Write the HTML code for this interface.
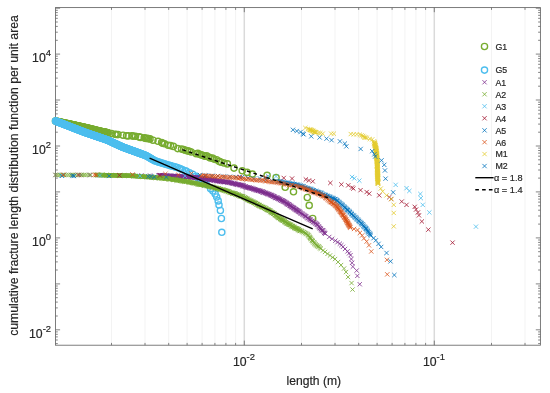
<!DOCTYPE html>
<html lang="en"><head><meta charset="utf-8"><title>Cumulative fracture length distribution</title>
<style>html,body{margin:0;padding:0;background:#fff}svg{display:block}text{stroke:#262626;stroke-width:.2px}</style></head>
<body>
<svg width="550" height="393" viewBox="0 0 550 393" font-family="'Liberation Sans', Arial, sans-serif" fill="#262626">
<rect width="550" height="393" fill="#fff"/>
<g stroke="#f3f3f3" stroke-width="1"><line x1="111.5" x2="111.5" y1="7.6" y2="345.2"/><line x1="145.0" x2="145.0" y1="7.6" y2="345.2"/><line x1="168.7" x2="168.7" y1="7.6" y2="345.2"/><line x1="187.1" x2="187.1" y1="7.6" y2="345.2"/><line x1="202.1" x2="202.1" y1="7.6" y2="345.2"/><line x1="214.9" x2="214.9" y1="7.6" y2="345.2"/><line x1="225.9" x2="225.9" y1="7.6" y2="345.2"/><line x1="235.6" x2="235.6" y1="7.6" y2="345.2"/><line x1="301.5" x2="301.5" y1="7.6" y2="345.2"/><line x1="335.0" x2="335.0" y1="7.6" y2="345.2"/><line x1="358.7" x2="358.7" y1="7.6" y2="345.2"/><line x1="377.1" x2="377.1" y1="7.6" y2="345.2"/><line x1="392.1" x2="392.1" y1="7.6" y2="345.2"/><line x1="404.9" x2="404.9" y1="7.6" y2="345.2"/><line x1="415.9" x2="415.9" y1="7.6" y2="345.2"/><line x1="425.6" x2="425.6" y1="7.6" y2="345.2"/><line x1="491.5" x2="491.5" y1="7.6" y2="345.2"/><line x1="525.0" x2="525.0" y1="7.6" y2="345.2"/></g>
<g stroke="#dadada" stroke-width="1.5"><line x1="244.3" x2="244.3" y1="7.6" y2="345.2"/><line x1="434.3" x2="434.3" y1="7.6" y2="345.2"/></g>
<g stroke="#666" stroke-width="0.8"><line x1="55.5" x2="57.8" y1="343.6" y2="343.6"/><line x1="540.4" x2="538.1" y1="343.6" y2="343.6"/><line x1="55.5" x2="57.8" y1="340.0" y2="340.0"/><line x1="540.4" x2="538.1" y1="340.0" y2="340.0"/><line x1="55.5" x2="57.8" y1="336.9" y2="336.9"/><line x1="540.4" x2="538.1" y1="336.9" y2="336.9"/><line x1="55.5" x2="57.8" y1="334.3" y2="334.3"/><line x1="540.4" x2="538.1" y1="334.3" y2="334.3"/><line x1="55.5" x2="57.8" y1="331.9" y2="331.9"/><line x1="540.4" x2="538.1" y1="331.9" y2="331.9"/><line x1="55.5" x2="60.1" y1="329.8" y2="329.8"/><line x1="540.4" x2="535.8" y1="329.8" y2="329.8"/><line x1="55.5" x2="57.8" y1="316.0" y2="316.0"/><line x1="540.4" x2="538.1" y1="316.0" y2="316.0"/><line x1="55.5" x2="57.8" y1="307.9" y2="307.9"/><line x1="540.4" x2="538.1" y1="307.9" y2="307.9"/><line x1="55.5" x2="57.8" y1="302.1" y2="302.1"/><line x1="540.4" x2="538.1" y1="302.1" y2="302.1"/><line x1="55.5" x2="57.8" y1="297.7" y2="297.7"/><line x1="540.4" x2="538.1" y1="297.7" y2="297.7"/><line x1="55.5" x2="57.8" y1="294.0" y2="294.0"/><line x1="540.4" x2="538.1" y1="294.0" y2="294.0"/><line x1="55.5" x2="57.8" y1="291.0" y2="291.0"/><line x1="540.4" x2="538.1" y1="291.0" y2="291.0"/><line x1="55.5" x2="57.8" y1="288.3" y2="288.3"/><line x1="540.4" x2="538.1" y1="288.3" y2="288.3"/><line x1="55.5" x2="57.8" y1="286.0" y2="286.0"/><line x1="540.4" x2="538.1" y1="286.0" y2="286.0"/><line x1="55.5" x2="60.1" y1="283.9" y2="283.9"/><line x1="540.4" x2="535.8" y1="283.9" y2="283.9"/><line x1="55.5" x2="57.8" y1="270.0" y2="270.0"/><line x1="540.4" x2="538.1" y1="270.0" y2="270.0"/><line x1="55.5" x2="57.8" y1="261.9" y2="261.9"/><line x1="540.4" x2="538.1" y1="261.9" y2="261.9"/><line x1="55.5" x2="57.8" y1="256.2" y2="256.2"/><line x1="540.4" x2="538.1" y1="256.2" y2="256.2"/><line x1="55.5" x2="57.8" y1="251.7" y2="251.7"/><line x1="540.4" x2="538.1" y1="251.7" y2="251.7"/><line x1="55.5" x2="57.8" y1="248.1" y2="248.1"/><line x1="540.4" x2="538.1" y1="248.1" y2="248.1"/><line x1="55.5" x2="57.8" y1="245.0" y2="245.0"/><line x1="540.4" x2="538.1" y1="245.0" y2="245.0"/><line x1="55.5" x2="57.8" y1="242.4" y2="242.4"/><line x1="540.4" x2="538.1" y1="242.4" y2="242.4"/><line x1="55.5" x2="57.8" y1="240.0" y2="240.0"/><line x1="540.4" x2="538.1" y1="240.0" y2="240.0"/><line x1="55.5" x2="60.1" y1="237.9" y2="237.9"/><line x1="540.4" x2="535.8" y1="237.9" y2="237.9"/><line x1="55.5" x2="57.8" y1="224.1" y2="224.1"/><line x1="540.4" x2="538.1" y1="224.1" y2="224.1"/><line x1="55.5" x2="57.8" y1="216.0" y2="216.0"/><line x1="540.4" x2="538.1" y1="216.0" y2="216.0"/><line x1="55.5" x2="57.8" y1="210.2" y2="210.2"/><line x1="540.4" x2="538.1" y1="210.2" y2="210.2"/><line x1="55.5" x2="57.8" y1="205.8" y2="205.8"/><line x1="540.4" x2="538.1" y1="205.8" y2="205.8"/><line x1="55.5" x2="57.8" y1="202.1" y2="202.1"/><line x1="540.4" x2="538.1" y1="202.1" y2="202.1"/><line x1="55.5" x2="57.8" y1="199.1" y2="199.1"/><line x1="540.4" x2="538.1" y1="199.1" y2="199.1"/><line x1="55.5" x2="57.8" y1="196.4" y2="196.4"/><line x1="540.4" x2="538.1" y1="196.4" y2="196.4"/><line x1="55.5" x2="57.8" y1="194.1" y2="194.1"/><line x1="540.4" x2="538.1" y1="194.1" y2="194.1"/><line x1="55.5" x2="60.1" y1="191.9" y2="191.9"/><line x1="540.4" x2="535.8" y1="191.9" y2="191.9"/><line x1="55.5" x2="57.8" y1="178.1" y2="178.1"/><line x1="540.4" x2="538.1" y1="178.1" y2="178.1"/><line x1="55.5" x2="57.8" y1="170.0" y2="170.0"/><line x1="540.4" x2="538.1" y1="170.0" y2="170.0"/><line x1="55.5" x2="57.8" y1="164.3" y2="164.3"/><line x1="540.4" x2="538.1" y1="164.3" y2="164.3"/><line x1="55.5" x2="57.8" y1="159.8" y2="159.8"/><line x1="540.4" x2="538.1" y1="159.8" y2="159.8"/><line x1="55.5" x2="57.8" y1="156.2" y2="156.2"/><line x1="540.4" x2="538.1" y1="156.2" y2="156.2"/><line x1="55.5" x2="57.8" y1="153.1" y2="153.1"/><line x1="540.4" x2="538.1" y1="153.1" y2="153.1"/><line x1="55.5" x2="57.8" y1="150.5" y2="150.5"/><line x1="540.4" x2="538.1" y1="150.5" y2="150.5"/><line x1="55.5" x2="57.8" y1="148.1" y2="148.1"/><line x1="540.4" x2="538.1" y1="148.1" y2="148.1"/><line x1="55.5" x2="60.1" y1="146.0" y2="146.0"/><line x1="540.4" x2="535.8" y1="146.0" y2="146.0"/><line x1="55.5" x2="57.8" y1="132.2" y2="132.2"/><line x1="540.4" x2="538.1" y1="132.2" y2="132.2"/><line x1="55.5" x2="57.8" y1="124.1" y2="124.1"/><line x1="540.4" x2="538.1" y1="124.1" y2="124.1"/><line x1="55.5" x2="57.8" y1="118.3" y2="118.3"/><line x1="540.4" x2="538.1" y1="118.3" y2="118.3"/><line x1="55.5" x2="57.8" y1="113.9" y2="113.9"/><line x1="540.4" x2="538.1" y1="113.9" y2="113.9"/><line x1="55.5" x2="57.8" y1="110.2" y2="110.2"/><line x1="540.4" x2="538.1" y1="110.2" y2="110.2"/><line x1="55.5" x2="57.8" y1="107.2" y2="107.2"/><line x1="540.4" x2="538.1" y1="107.2" y2="107.2"/><line x1="55.5" x2="57.8" y1="104.5" y2="104.5"/><line x1="540.4" x2="538.1" y1="104.5" y2="104.5"/><line x1="55.5" x2="57.8" y1="102.2" y2="102.2"/><line x1="540.4" x2="538.1" y1="102.2" y2="102.2"/><line x1="55.5" x2="60.1" y1="100.0" y2="100.0"/><line x1="540.4" x2="535.8" y1="100.0" y2="100.0"/><line x1="55.5" x2="57.8" y1="86.2" y2="86.2"/><line x1="540.4" x2="538.1" y1="86.2" y2="86.2"/><line x1="55.5" x2="57.8" y1="78.1" y2="78.1"/><line x1="540.4" x2="538.1" y1="78.1" y2="78.1"/><line x1="55.5" x2="57.8" y1="72.4" y2="72.4"/><line x1="540.4" x2="538.1" y1="72.4" y2="72.4"/><line x1="55.5" x2="57.8" y1="67.9" y2="67.9"/><line x1="540.4" x2="538.1" y1="67.9" y2="67.9"/><line x1="55.5" x2="57.8" y1="64.3" y2="64.3"/><line x1="540.4" x2="538.1" y1="64.3" y2="64.3"/><line x1="55.5" x2="57.8" y1="61.2" y2="61.2"/><line x1="540.4" x2="538.1" y1="61.2" y2="61.2"/><line x1="55.5" x2="57.8" y1="58.6" y2="58.6"/><line x1="540.4" x2="538.1" y1="58.6" y2="58.6"/><line x1="55.5" x2="57.8" y1="56.2" y2="56.2"/><line x1="540.4" x2="538.1" y1="56.2" y2="56.2"/><line x1="55.5" x2="60.1" y1="54.1" y2="54.1"/><line x1="540.4" x2="535.8" y1="54.1" y2="54.1"/><line x1="55.5" x2="57.8" y1="40.3" y2="40.3"/><line x1="540.4" x2="538.1" y1="40.3" y2="40.3"/><line x1="55.5" x2="57.8" y1="32.2" y2="32.2"/><line x1="540.4" x2="538.1" y1="32.2" y2="32.2"/><line x1="55.5" x2="57.8" y1="26.4" y2="26.4"/><line x1="540.4" x2="538.1" y1="26.4" y2="26.4"/><line x1="55.5" x2="57.8" y1="22.0" y2="22.0"/><line x1="540.4" x2="538.1" y1="22.0" y2="22.0"/><line x1="55.5" x2="57.8" y1="18.3" y2="18.3"/><line x1="540.4" x2="538.1" y1="18.3" y2="18.3"/><line x1="55.5" x2="57.8" y1="15.3" y2="15.3"/><line x1="540.4" x2="538.1" y1="15.3" y2="15.3"/><line x1="55.5" x2="57.8" y1="12.6" y2="12.6"/><line x1="540.4" x2="538.1" y1="12.6" y2="12.6"/><line x1="55.5" x2="57.8" y1="10.3" y2="10.3"/><line x1="540.4" x2="538.1" y1="10.3" y2="10.3"/><line x1="55.5" x2="60.1" y1="8.2" y2="8.2"/><line x1="540.4" x2="535.8" y1="8.2" y2="8.2"/><line x1="111.5" x2="111.5" y1="345.2" y2="342.9"/><line x1="111.5" x2="111.5" y1="7.6" y2="9.899999999999999"/><line x1="145.0" x2="145.0" y1="345.2" y2="342.9"/><line x1="145.0" x2="145.0" y1="7.6" y2="9.899999999999999"/><line x1="168.7" x2="168.7" y1="345.2" y2="342.9"/><line x1="168.7" x2="168.7" y1="7.6" y2="9.899999999999999"/><line x1="187.1" x2="187.1" y1="345.2" y2="342.9"/><line x1="187.1" x2="187.1" y1="7.6" y2="9.899999999999999"/><line x1="202.1" x2="202.1" y1="345.2" y2="342.9"/><line x1="202.1" x2="202.1" y1="7.6" y2="9.899999999999999"/><line x1="214.9" x2="214.9" y1="345.2" y2="342.9"/><line x1="214.9" x2="214.9" y1="7.6" y2="9.899999999999999"/><line x1="225.9" x2="225.9" y1="345.2" y2="342.9"/><line x1="225.9" x2="225.9" y1="7.6" y2="9.899999999999999"/><line x1="235.6" x2="235.6" y1="345.2" y2="342.9"/><line x1="235.6" x2="235.6" y1="7.6" y2="9.899999999999999"/><line x1="244.3" x2="244.3" y1="345.2" y2="340.59999999999997"/><line x1="244.3" x2="244.3" y1="7.6" y2="12.2"/><line x1="301.5" x2="301.5" y1="345.2" y2="342.9"/><line x1="301.5" x2="301.5" y1="7.6" y2="9.899999999999999"/><line x1="335.0" x2="335.0" y1="345.2" y2="342.9"/><line x1="335.0" x2="335.0" y1="7.6" y2="9.899999999999999"/><line x1="358.7" x2="358.7" y1="345.2" y2="342.9"/><line x1="358.7" x2="358.7" y1="7.6" y2="9.899999999999999"/><line x1="377.1" x2="377.1" y1="345.2" y2="342.9"/><line x1="377.1" x2="377.1" y1="7.6" y2="9.899999999999999"/><line x1="392.1" x2="392.1" y1="345.2" y2="342.9"/><line x1="392.1" x2="392.1" y1="7.6" y2="9.899999999999999"/><line x1="404.9" x2="404.9" y1="345.2" y2="342.9"/><line x1="404.9" x2="404.9" y1="7.6" y2="9.899999999999999"/><line x1="415.9" x2="415.9" y1="345.2" y2="342.9"/><line x1="415.9" x2="415.9" y1="7.6" y2="9.899999999999999"/><line x1="425.6" x2="425.6" y1="345.2" y2="342.9"/><line x1="425.6" x2="425.6" y1="7.6" y2="9.899999999999999"/><line x1="434.3" x2="434.3" y1="345.2" y2="340.59999999999997"/><line x1="434.3" x2="434.3" y1="7.6" y2="12.2"/><line x1="491.5" x2="491.5" y1="345.2" y2="342.9"/><line x1="491.5" x2="491.5" y1="7.6" y2="9.899999999999999"/><line x1="525.0" x2="525.0" y1="345.2" y2="342.9"/><line x1="525.0" x2="525.0" y1="7.6" y2="9.899999999999999"/></g>
<rect x="55.5" y="7.6" width="484.9" height="337.59999999999997" fill="none" stroke="#666" stroke-width="0.85"/>
<clipPath id="c"><rect x="49.5" y="7.6" width="490.9" height="337.59999999999997"/></clipPath>
<g clip-path="url(#c)">
<g fill="none" stroke="#77AC30" stroke-width="1.35"><circle cx="55.5" cy="121.0" r="3.1"/><circle cx="56.0" cy="121.1" r="3.1"/><circle cx="56.4" cy="121.2" r="3.1"/><circle cx="56.9" cy="121.3" r="3.1"/><circle cx="57.3" cy="121.4" r="3.1"/><circle cx="57.8" cy="121.5" r="3.1"/><circle cx="58.2" cy="121.6" r="3.1"/><circle cx="58.7" cy="121.7" r="3.1"/><circle cx="59.1" cy="121.8" r="3.1"/><circle cx="59.6" cy="121.9" r="3.1"/><circle cx="60.0" cy="122.0" r="3.1"/><circle cx="60.5" cy="122.1" r="3.1"/><circle cx="60.9" cy="122.2" r="3.1"/><circle cx="61.4" cy="122.3" r="3.1"/><circle cx="61.8" cy="122.4" r="3.1"/><circle cx="62.3" cy="122.5" r="3.1"/><circle cx="62.7" cy="122.6" r="3.1"/><circle cx="63.2" cy="122.7" r="3.1"/><circle cx="63.6" cy="122.8" r="3.1"/><circle cx="64.1" cy="122.9" r="3.1"/><circle cx="64.5" cy="123.0" r="3.1"/><circle cx="65.0" cy="123.1" r="3.1"/><circle cx="65.4" cy="123.2" r="3.1"/><circle cx="65.9" cy="123.3" r="3.1"/><circle cx="66.3" cy="123.4" r="3.1"/><circle cx="66.8" cy="123.5" r="3.1"/><circle cx="67.2" cy="123.6" r="3.1"/><circle cx="67.7" cy="123.6" r="3.1"/><circle cx="68.1" cy="123.7" r="3.1"/><circle cx="68.6" cy="123.8" r="3.1"/><circle cx="69.0" cy="123.9" r="3.1"/><circle cx="69.5" cy="124.0" r="3.1"/><circle cx="69.9" cy="124.1" r="3.1"/><circle cx="70.4" cy="124.2" r="3.1"/><circle cx="70.8" cy="124.3" r="3.1"/><circle cx="71.3" cy="124.4" r="3.1"/><circle cx="71.7" cy="124.5" r="3.1"/><circle cx="72.2" cy="124.6" r="3.1"/><circle cx="72.6" cy="124.7" r="3.1"/><circle cx="73.1" cy="124.8" r="3.1"/><circle cx="73.5" cy="124.9" r="3.1"/><circle cx="74.0" cy="125.0" r="3.1"/><circle cx="74.4" cy="125.1" r="3.1"/><circle cx="74.9" cy="125.2" r="3.1"/><circle cx="75.3" cy="125.3" r="3.1"/><circle cx="75.8" cy="125.4" r="3.1"/><circle cx="76.2" cy="125.5" r="3.1"/><circle cx="76.7" cy="125.6" r="3.1"/><circle cx="77.1" cy="125.7" r="3.1"/><circle cx="77.6" cy="125.8" r="3.1"/><circle cx="78.0" cy="125.9" r="3.1"/><circle cx="78.5" cy="126.0" r="3.1"/><circle cx="78.9" cy="126.1" r="3.1"/><circle cx="79.4" cy="126.2" r="3.1"/><circle cx="79.8" cy="126.3" r="3.1"/><circle cx="80.3" cy="126.4" r="3.1"/><circle cx="80.7" cy="126.5" r="3.1"/><circle cx="81.2" cy="126.6" r="3.1"/><circle cx="81.6" cy="126.7" r="3.1"/><circle cx="82.1" cy="126.8" r="3.1"/><circle cx="82.5" cy="126.9" r="3.1"/><circle cx="83.0" cy="127.0" r="3.1"/><circle cx="83.4" cy="127.1" r="3.1"/><circle cx="83.9" cy="127.2" r="3.1"/><circle cx="84.3" cy="127.3" r="3.1"/><circle cx="84.8" cy="127.4" r="3.1"/><circle cx="85.2" cy="127.5" r="3.1"/><circle cx="85.7" cy="127.6" r="3.1"/><circle cx="86.1" cy="127.7" r="3.1"/><circle cx="86.6" cy="127.8" r="3.1"/><circle cx="87.0" cy="128.0" r="3.1"/><circle cx="87.5" cy="128.1" r="3.1"/><circle cx="87.9" cy="128.2" r="3.1"/><circle cx="88.4" cy="128.3" r="3.1"/><circle cx="88.8" cy="128.4" r="3.1"/><circle cx="89.3" cy="128.5" r="3.1"/><circle cx="89.7" cy="128.6" r="3.1"/><circle cx="90.2" cy="128.7" r="3.1"/><circle cx="90.6" cy="128.9" r="3.1"/><circle cx="91.1" cy="129.0" r="3.1"/><circle cx="91.5" cy="129.1" r="3.1"/><circle cx="92.0" cy="129.2" r="3.1"/><circle cx="92.4" cy="129.3" r="3.1"/><circle cx="92.9" cy="129.4" r="3.1"/><circle cx="93.3" cy="129.5" r="3.1"/><circle cx="93.8" cy="129.6" r="3.1"/><circle cx="94.2" cy="129.8" r="3.1"/><circle cx="94.7" cy="129.9" r="3.1"/><circle cx="95.1" cy="130.0" r="3.1"/><circle cx="95.6" cy="130.1" r="3.1"/><circle cx="96.0" cy="130.2" r="3.1"/><circle cx="96.5" cy="130.3" r="3.1"/><circle cx="96.9" cy="130.4" r="3.1"/><circle cx="97.4" cy="130.5" r="3.1"/><circle cx="97.8" cy="130.7" r="3.1"/><circle cx="98.3" cy="130.8" r="3.1"/><circle cx="98.7" cy="130.9" r="3.1"/><circle cx="99.2" cy="131.0" r="3.1"/><circle cx="99.6" cy="131.1" r="3.1"/><circle cx="100.1" cy="131.2" r="3.1"/><circle cx="100.5" cy="131.3" r="3.1"/><circle cx="101.0" cy="131.4" r="3.1"/><circle cx="101.4" cy="131.5" r="3.1"/><circle cx="101.9" cy="131.6" r="3.1"/><circle cx="102.3" cy="131.7" r="3.1"/><circle cx="102.8" cy="131.8" r="3.1"/><circle cx="103.2" cy="131.8" r="3.1"/><circle cx="103.7" cy="131.9" r="3.1"/><circle cx="104.1" cy="132.0" r="3.1"/><circle cx="104.6" cy="132.1" r="3.1"/><circle cx="105.0" cy="132.2" r="3.1"/><circle cx="105.5" cy="132.3" r="3.1"/><circle cx="105.9" cy="132.4" r="3.1"/><circle cx="106.4" cy="132.5" r="3.1"/><circle cx="106.8" cy="132.6" r="3.1"/><circle cx="107.3" cy="132.7" r="3.1"/><circle cx="107.7" cy="132.7" r="3.1"/><circle cx="108.2" cy="132.8" r="3.1"/><circle cx="111.5" cy="133.6" r="3.1"/><circle cx="115.1" cy="134.2" r="3.1"/><circle cx="116.2" cy="134.5" r="3.1"/><circle cx="118.0" cy="134.6" r="3.1"/><circle cx="123.0" cy="135.2" r="3.1"/><circle cx="126.6" cy="135.7" r="3.1"/><circle cx="128.3" cy="135.9" r="3.1"/><circle cx="131.9" cy="135.7" r="3.1"/><circle cx="133.0" cy="136.1" r="3.1"/><circle cx="135.5" cy="136.3" r="3.1"/><circle cx="139.1" cy="136.9" r="3.1"/><circle cx="140.6" cy="137.4" r="3.1"/><circle cx="144.2" cy="137.8" r="3.1"/><circle cx="145.3" cy="138.3" r="3.1"/><circle cx="146.4" cy="138.5" r="3.1"/><circle cx="147.5" cy="138.2" r="3.1"/><circle cx="148.6" cy="138.7" r="3.1"/><circle cx="150.0" cy="138.9" r="3.1"/><circle cx="153.0" cy="140.2" r="3.1"/><circle cx="158.0" cy="141.3" r="3.1"/><circle cx="161.6" cy="142.6" r="3.1"/><circle cx="162.7" cy="143.3" r="3.1"/><circle cx="164.6" cy="143.8" r="3.1"/><circle cx="168.2" cy="145.2" r="3.1"/><circle cx="170.5" cy="145.6" r="3.1"/><circle cx="173.4" cy="146.4" r="3.1"/><circle cx="177.7" cy="148.6" r="3.1"/><circle cx="181.5" cy="149.1" r="3.1"/><circle cx="183.6" cy="149.6" r="3.1"/><circle cx="185.4" cy="150.2" r="3.1"/><circle cx="187.6" cy="150.9" r="3.1"/><circle cx="189.3" cy="151.2" r="3.1"/><circle cx="191.2" cy="152.0" r="3.1"/><circle cx="196.2" cy="153.8" r="3.1"/><circle cx="197.8" cy="153.4" r="3.1"/><circle cx="199.6" cy="154.2" r="3.1"/><circle cx="201.3" cy="154.9" r="3.1"/><circle cx="203.2" cy="155.6" r="3.1"/><circle cx="205.0" cy="156.2" r="3.1"/><circle cx="206.6" cy="155.9" r="3.1"/><circle cx="208.6" cy="157.1" r="3.1"/><circle cx="210.3" cy="158.0" r="3.1"/><circle cx="212.4" cy="158.0" r="3.1"/><circle cx="214.0" cy="159.1" r="3.1"/><circle cx="216.6" cy="159.7" r="3.1"/><circle cx="219.3" cy="161.4" r="3.1"/><circle cx="221.2" cy="162.3" r="3.1"/><circle cx="224.0" cy="163.0" r="3.1"/><circle cx="227.4" cy="163.9" r="3.1"/><circle cx="234.0" cy="168.1" r="3.1"/><circle cx="242.2" cy="170.8" r="3.1"/><circle cx="247.1" cy="172.4" r="3.1"/><circle cx="252.5" cy="174.1" r="3.1"/><circle cx="267.1" cy="175.3" r="3.1"/><circle cx="276.1" cy="177.6" r="3.1"/><circle cx="285.2" cy="187.3" r="3.1"/><circle cx="293.5" cy="191.8" r="3.1"/><circle cx="307.3" cy="197.5" r="3.1"/><circle cx="309.2" cy="205.4" r="3.1"/><circle cx="312.7" cy="218.5" r="3.1"/></g>
<g fill="none" stroke="#4DBEEE" stroke-width="1.35"><circle cx="55.5" cy="121.0" r="3.1"/><circle cx="55.9" cy="121.1" r="3.1"/><circle cx="56.2" cy="121.3" r="3.1"/><circle cx="56.6" cy="121.4" r="3.1"/><circle cx="57.0" cy="121.6" r="3.1"/><circle cx="57.4" cy="121.7" r="3.1"/><circle cx="57.7" cy="121.9" r="3.1"/><circle cx="58.1" cy="122.0" r="3.1"/><circle cx="58.5" cy="122.2" r="3.1"/><circle cx="58.9" cy="122.3" r="3.1"/><circle cx="59.2" cy="122.4" r="3.1"/><circle cx="59.6" cy="122.6" r="3.1"/><circle cx="60.0" cy="122.7" r="3.1"/><circle cx="60.3" cy="122.9" r="3.1"/><circle cx="60.7" cy="123.0" r="3.1"/><circle cx="61.1" cy="123.2" r="3.1"/><circle cx="61.5" cy="123.3" r="3.1"/><circle cx="61.8" cy="123.5" r="3.1"/><circle cx="62.2" cy="123.6" r="3.1"/><circle cx="62.6" cy="123.7" r="3.1"/><circle cx="63.0" cy="123.9" r="3.1"/><circle cx="63.3" cy="124.0" r="3.1"/><circle cx="63.7" cy="124.2" r="3.1"/><circle cx="64.1" cy="124.3" r="3.1"/><circle cx="64.5" cy="124.5" r="3.1"/><circle cx="64.8" cy="124.6" r="3.1"/><circle cx="65.2" cy="124.8" r="3.1"/><circle cx="65.6" cy="124.9" r="3.1"/><circle cx="65.9" cy="125.0" r="3.1"/><circle cx="66.3" cy="125.2" r="3.1"/><circle cx="66.7" cy="125.3" r="3.1"/><circle cx="67.1" cy="125.5" r="3.1"/><circle cx="67.4" cy="125.6" r="3.1"/><circle cx="67.8" cy="125.8" r="3.1"/><circle cx="68.2" cy="125.9" r="3.1"/><circle cx="68.6" cy="126.1" r="3.1"/><circle cx="68.9" cy="126.2" r="3.1"/><circle cx="69.3" cy="126.3" r="3.1"/><circle cx="69.7" cy="126.5" r="3.1"/><circle cx="70.0" cy="126.6" r="3.1"/><circle cx="70.4" cy="126.8" r="3.1"/><circle cx="70.8" cy="126.9" r="3.1"/><circle cx="71.2" cy="127.1" r="3.1"/><circle cx="71.5" cy="127.2" r="3.1"/><circle cx="71.9" cy="127.4" r="3.1"/><circle cx="72.3" cy="127.5" r="3.1"/><circle cx="72.7" cy="127.6" r="3.1"/><circle cx="73.0" cy="127.8" r="3.1"/><circle cx="73.4" cy="127.9" r="3.1"/><circle cx="73.8" cy="128.1" r="3.1"/><circle cx="74.1" cy="128.2" r="3.1"/><circle cx="74.5" cy="128.4" r="3.1"/><circle cx="74.9" cy="128.5" r="3.1"/><circle cx="75.3" cy="128.7" r="3.1"/><circle cx="75.6" cy="128.8" r="3.1"/><circle cx="76.0" cy="128.9" r="3.1"/><circle cx="76.4" cy="129.1" r="3.1"/><circle cx="76.8" cy="129.2" r="3.1"/><circle cx="77.1" cy="129.4" r="3.1"/><circle cx="77.5" cy="129.5" r="3.1"/><circle cx="77.9" cy="129.7" r="3.1"/><circle cx="78.3" cy="129.8" r="3.1"/><circle cx="78.6" cy="130.0" r="3.1"/><circle cx="79.0" cy="130.1" r="3.1"/><circle cx="79.4" cy="130.3" r="3.1"/><circle cx="79.7" cy="130.4" r="3.1"/><circle cx="80.1" cy="130.5" r="3.1"/><circle cx="80.5" cy="130.7" r="3.1"/><circle cx="80.9" cy="130.8" r="3.1"/><circle cx="81.2" cy="131.0" r="3.1"/><circle cx="81.6" cy="131.1" r="3.1"/><circle cx="82.0" cy="131.3" r="3.1"/><circle cx="82.4" cy="131.4" r="3.1"/><circle cx="82.7" cy="131.6" r="3.1"/><circle cx="83.1" cy="131.7" r="3.1"/><circle cx="83.5" cy="131.8" r="3.1"/><circle cx="83.8" cy="132.0" r="3.1"/><circle cx="84.2" cy="132.1" r="3.1"/><circle cx="84.6" cy="132.3" r="3.1"/><circle cx="85.0" cy="132.4" r="3.1"/><circle cx="85.4" cy="132.5" r="3.1"/><circle cx="85.7" cy="132.7" r="3.1"/><circle cx="86.1" cy="132.8" r="3.1"/><circle cx="86.5" cy="132.9" r="3.1"/><circle cx="86.9" cy="133.0" r="3.1"/><circle cx="87.2" cy="133.2" r="3.1"/><circle cx="87.6" cy="133.3" r="3.1"/><circle cx="88.0" cy="133.4" r="3.1"/><circle cx="88.4" cy="133.6" r="3.1"/><circle cx="88.8" cy="133.7" r="3.1"/><circle cx="89.1" cy="133.8" r="3.1"/><circle cx="89.5" cy="133.9" r="3.1"/><circle cx="89.9" cy="134.1" r="3.1"/><circle cx="90.3" cy="134.2" r="3.1"/><circle cx="90.7" cy="134.3" r="3.1"/><circle cx="91.0" cy="134.5" r="3.1"/><circle cx="91.4" cy="134.6" r="3.1"/><circle cx="91.8" cy="134.7" r="3.1"/><circle cx="92.2" cy="134.8" r="3.1"/><circle cx="92.5" cy="135.0" r="3.1"/><circle cx="92.9" cy="135.1" r="3.1"/><circle cx="93.3" cy="135.2" r="3.1"/><circle cx="93.7" cy="135.4" r="3.1"/><circle cx="94.1" cy="135.5" r="3.1"/><circle cx="94.4" cy="135.6" r="3.1"/><circle cx="94.8" cy="135.7" r="3.1"/><circle cx="95.2" cy="135.9" r="3.1"/><circle cx="95.6" cy="136.0" r="3.1"/><circle cx="96.0" cy="136.1" r="3.1"/><circle cx="96.3" cy="136.3" r="3.1"/><circle cx="96.7" cy="136.4" r="3.1"/><circle cx="97.1" cy="136.5" r="3.1"/><circle cx="97.5" cy="136.7" r="3.1"/><circle cx="97.8" cy="136.8" r="3.1"/><circle cx="98.2" cy="136.9" r="3.1"/><circle cx="98.6" cy="137.0" r="3.1"/><circle cx="99.0" cy="137.2" r="3.1"/><circle cx="99.4" cy="137.3" r="3.1"/><circle cx="99.7" cy="137.4" r="3.1"/><circle cx="100.1" cy="137.6" r="3.1"/><circle cx="100.5" cy="137.7" r="3.1"/><circle cx="100.9" cy="137.8" r="3.1"/><circle cx="101.3" cy="137.9" r="3.1"/><circle cx="101.6" cy="138.1" r="3.1"/><circle cx="102.0" cy="138.2" r="3.1"/><circle cx="102.4" cy="138.3" r="3.1"/><circle cx="102.8" cy="138.5" r="3.1"/><circle cx="103.1" cy="138.6" r="3.1"/><circle cx="103.5" cy="138.7" r="3.1"/><circle cx="103.9" cy="138.8" r="3.1"/><circle cx="104.3" cy="139.0" r="3.1"/><circle cx="104.7" cy="139.1" r="3.1"/><circle cx="105.0" cy="139.2" r="3.1"/><circle cx="105.4" cy="139.4" r="3.1"/><circle cx="105.8" cy="139.5" r="3.1"/><circle cx="106.2" cy="139.6" r="3.1"/><circle cx="106.6" cy="139.7" r="3.1"/><circle cx="106.9" cy="139.9" r="3.1"/><circle cx="107.3" cy="140.0" r="3.1"/><circle cx="107.7" cy="140.2" r="3.1"/><circle cx="108.0" cy="140.3" r="3.1"/><circle cx="108.4" cy="140.5" r="3.1"/><circle cx="108.8" cy="140.7" r="3.1"/><circle cx="109.1" cy="140.8" r="3.1"/><circle cx="109.5" cy="141.0" r="3.1"/><circle cx="109.9" cy="141.2" r="3.1"/><circle cx="110.2" cy="141.3" r="3.1"/><circle cx="110.6" cy="141.5" r="3.1"/><circle cx="110.9" cy="141.7" r="3.1"/><circle cx="111.3" cy="141.8" r="3.1"/><circle cx="111.7" cy="142.0" r="3.1"/><circle cx="112.0" cy="142.2" r="3.1"/><circle cx="112.4" cy="142.4" r="3.1"/><circle cx="112.8" cy="142.5" r="3.1"/><circle cx="113.1" cy="142.7" r="3.1"/><circle cx="113.5" cy="142.9" r="3.1"/><circle cx="113.8" cy="143.0" r="3.1"/><circle cx="114.2" cy="143.2" r="3.1"/><circle cx="114.6" cy="143.4" r="3.1"/><circle cx="114.9" cy="143.5" r="3.1"/><circle cx="115.3" cy="143.7" r="3.1"/><circle cx="115.7" cy="143.9" r="3.1"/><circle cx="116.0" cy="144.0" r="3.1"/><circle cx="116.4" cy="144.2" r="3.1"/><circle cx="116.8" cy="144.4" r="3.1"/><circle cx="117.1" cy="144.5" r="3.1"/><circle cx="117.5" cy="144.7" r="3.1"/><circle cx="117.8" cy="144.9" r="3.1"/><circle cx="118.2" cy="145.0" r="3.1"/><circle cx="118.6" cy="145.2" r="3.1"/><circle cx="118.9" cy="145.4" r="3.1"/><circle cx="119.3" cy="145.5" r="3.1"/><circle cx="119.7" cy="145.7" r="3.1"/><circle cx="120.0" cy="145.9" r="3.1"/><circle cx="120.4" cy="146.0" r="3.1"/><circle cx="120.8" cy="146.2" r="3.1"/><circle cx="121.1" cy="146.4" r="3.1"/><circle cx="121.5" cy="146.5" r="3.1"/><circle cx="121.8" cy="146.7" r="3.1"/><circle cx="122.2" cy="146.9" r="3.1"/><circle cx="122.6" cy="147.0" r="3.1"/><circle cx="122.9" cy="147.2" r="3.1"/><circle cx="123.3" cy="147.3" r="3.1"/><circle cx="123.7" cy="147.5" r="3.1"/><circle cx="124.1" cy="147.6" r="3.1"/><circle cx="124.4" cy="147.8" r="3.1"/><circle cx="124.8" cy="147.9" r="3.1"/><circle cx="125.2" cy="148.0" r="3.1"/><circle cx="125.6" cy="148.2" r="3.1"/><circle cx="125.9" cy="148.3" r="3.1"/><circle cx="126.3" cy="148.4" r="3.1"/><circle cx="126.7" cy="148.6" r="3.1"/><circle cx="127.1" cy="148.7" r="3.1"/><circle cx="127.4" cy="148.8" r="3.1"/><circle cx="127.8" cy="149.0" r="3.1"/><circle cx="128.2" cy="149.1" r="3.1"/><circle cx="128.6" cy="149.3" r="3.1"/><circle cx="128.9" cy="149.4" r="3.1"/><circle cx="129.3" cy="149.5" r="3.1"/><circle cx="129.7" cy="149.7" r="3.1"/><circle cx="130.1" cy="149.8" r="3.1"/><circle cx="130.5" cy="149.9" r="3.1"/><circle cx="130.8" cy="150.1" r="3.1"/><circle cx="131.2" cy="150.2" r="3.1"/><circle cx="131.6" cy="150.3" r="3.1"/><circle cx="132.0" cy="150.5" r="3.1"/><circle cx="132.3" cy="150.6" r="3.1"/><circle cx="132.7" cy="150.8" r="3.1"/><circle cx="133.1" cy="150.9" r="3.1"/><circle cx="133.5" cy="151.0" r="3.1"/><circle cx="133.8" cy="151.2" r="3.1"/><circle cx="134.2" cy="151.3" r="3.1"/><circle cx="134.6" cy="151.4" r="3.1"/><circle cx="135.0" cy="151.6" r="3.1"/><circle cx="135.3" cy="151.7" r="3.1"/><circle cx="135.7" cy="151.8" r="3.1"/><circle cx="136.1" cy="152.0" r="3.1"/><circle cx="136.5" cy="152.1" r="3.1"/><circle cx="136.8" cy="152.3" r="3.1"/><circle cx="137.2" cy="152.4" r="3.1"/><circle cx="137.6" cy="152.5" r="3.1"/><circle cx="138.0" cy="152.7" r="3.1"/><circle cx="138.3" cy="152.8" r="3.1"/><circle cx="138.7" cy="152.9" r="3.1"/><circle cx="139.1" cy="153.1" r="3.1"/><circle cx="139.5" cy="153.2" r="3.1"/><circle cx="139.9" cy="153.3" r="3.1"/><circle cx="140.2" cy="153.5" r="3.1"/><circle cx="140.4" cy="153.6" r="3.1"/><circle cx="140.8" cy="153.7" r="3.1"/><circle cx="141.4" cy="153.9" r="3.1"/><circle cx="141.7" cy="154.0" r="3.1"/><circle cx="142.2" cy="154.2" r="3.1"/><circle cx="142.6" cy="154.3" r="3.1"/><circle cx="143.0" cy="154.5" r="3.1"/><circle cx="143.6" cy="154.7" r="3.1"/><circle cx="144.0" cy="154.9" r="3.1"/><circle cx="144.5" cy="155.0" r="3.1"/><circle cx="145.2" cy="155.3" r="3.1"/><circle cx="145.8" cy="155.5" r="3.1"/><circle cx="146.5" cy="155.9" r="3.1"/><circle cx="147.1" cy="156.3" r="3.1"/><circle cx="147.5" cy="156.5" r="3.1"/><circle cx="148.1" cy="156.8" r="3.1"/><circle cx="149.0" cy="157.4" r="3.1"/><circle cx="149.7" cy="157.8" r="3.1"/><circle cx="150.7" cy="158.4" r="3.1"/><circle cx="151.1" cy="158.6" r="3.1"/><circle cx="151.7" cy="159.0" r="3.1"/><circle cx="152.7" cy="159.6" r="3.1"/><circle cx="153.7" cy="160.1" r="3.1"/><circle cx="154.6" cy="160.7" r="3.1"/><circle cx="155.7" cy="161.1" r="3.1"/><circle cx="157.2" cy="161.6" r="3.1"/><circle cx="158.4" cy="162.0" r="3.1"/><circle cx="159.6" cy="162.3" r="3.1"/><circle cx="160.9" cy="162.7" r="3.1"/><circle cx="162.4" cy="163.2" r="3.1"/><circle cx="163.4" cy="163.5" r="3.1"/><circle cx="165.0" cy="164.0" r="3.1"/><circle cx="166.6" cy="164.5" r="3.1"/><circle cx="168.5" cy="165.0" r="3.1"/><circle cx="170.1" cy="165.5" r="3.1"/><circle cx="170.9" cy="165.7" r="3.1"/><circle cx="172.7" cy="166.2" r="3.1"/><circle cx="175.0" cy="166.9" r="3.1"/><circle cx="177.1" cy="167.5" r="3.1"/><circle cx="179.3" cy="168.3" r="3.1"/><circle cx="181.0" cy="169.1" r="3.1"/><circle cx="182.7" cy="169.8" r="3.1"/><circle cx="185.2" cy="170.9" r="3.1"/><circle cx="186.5" cy="171.4" r="3.1"/><circle cx="189.5" cy="172.8" r="3.1"/><circle cx="192.7" cy="174.2" r="3.1"/><circle cx="195.9" cy="176.4" r="3.1"/><circle cx="197.4" cy="177.5" r="3.1"/><circle cx="198.8" cy="178.5" r="3.1"/><circle cx="202.2" cy="180.9" r="3.1"/><circle cx="204.3" cy="182.7" r="3.1"/><circle cx="206.1" cy="184.3" r="3.1"/><circle cx="210.6" cy="188.7" r="3.1"/><circle cx="212.9" cy="191.0" r="3.1"/><circle cx="215.2" cy="194.0" r="3.1"/><circle cx="216.7" cy="197.0" r="3.1"/><circle cx="218.2" cy="200.9" r="3.1"/><circle cx="219.0" cy="205.0" r="3.1"/><circle cx="220.4" cy="210.5" r="3.1"/><circle cx="221.4" cy="218.5" r="3.1"/><circle cx="221.8" cy="232.3" r="3.1"/></g>
<path d="M53.4 172.8l4.3 4.3m0 -4.3l-4.3 4.3M61.9 172.8l4.3 4.3m0 -4.3l-4.3 4.3M70.5 172.8l4.3 4.3m0 -4.3l-4.3 4.3M79.1 172.9l4.3 4.3m0 -4.3l-4.3 4.3M87.7 172.9l4.3 4.3m0 -4.3l-4.3 4.3M96.3 172.9l4.3 4.3m0 -4.3l-4.3 4.3M104.9 173.0l4.3 4.3m0 -4.3l-4.3 4.3M113.5 173.0l4.3 4.3m0 -4.3l-4.3 4.3M122.1 173.0l4.3 4.3m0 -4.3l-4.3 4.3M130.7 173.1l4.3 4.3m0 -4.3l-4.3 4.3M139.3 173.3l4.3 4.3m0 -4.3l-4.3 4.3M147.9 173.4l4.3 4.3m0 -4.3l-4.3 4.3M156.5 173.0l4.3 4.3m0 -4.3l-4.3 4.3M157.0 173.4l4.3 4.3m0 -4.3l-4.3 4.3M157.5 173.2l4.3 4.3m0 -4.3l-4.3 4.3M158.0 172.9l4.3 4.3m0 -4.3l-4.3 4.3M158.5 173.3l4.3 4.3m0 -4.3l-4.3 4.3M159.0 173.3l4.3 4.3m0 -4.3l-4.3 4.3M159.5 173.4l4.3 4.3m0 -4.3l-4.3 4.3M160.0 173.1l4.3 4.3m0 -4.3l-4.3 4.3M160.5 173.6l4.3 4.3m0 -4.3l-4.3 4.3M161.0 173.6l4.3 4.3m0 -4.3l-4.3 4.3M161.5 173.2l4.3 4.3m0 -4.3l-4.3 4.3M162.0 173.3l4.3 4.3m0 -4.3l-4.3 4.3M162.5 173.5l4.3 4.3m0 -4.3l-4.3 4.3M163.0 173.4l4.3 4.3m0 -4.3l-4.3 4.3M163.5 174.0l4.3 4.3m0 -4.3l-4.3 4.3M164.0 173.6l4.3 4.3m0 -4.3l-4.3 4.3M164.5 173.4l4.3 4.3m0 -4.3l-4.3 4.3M165.0 173.4l4.3 4.3m0 -4.3l-4.3 4.3M165.5 173.6l4.3 4.3m0 -4.3l-4.3 4.3M166.0 174.2l4.3 4.3m0 -4.3l-4.3 4.3M166.5 173.6l4.3 4.3m0 -4.3l-4.3 4.3M167.0 173.7l4.3 4.3m0 -4.3l-4.3 4.3M167.5 173.9l4.3 4.3m0 -4.3l-4.3 4.3M168.0 173.7l4.3 4.3m0 -4.3l-4.3 4.3M168.5 174.3l4.3 4.3m0 -4.3l-4.3 4.3M169.0 173.7l4.3 4.3m0 -4.3l-4.3 4.3M169.5 174.0l4.3 4.3m0 -4.3l-4.3 4.3M170.0 173.9l4.3 4.3m0 -4.3l-4.3 4.3M170.5 174.0l4.3 4.3m0 -4.3l-4.3 4.3M171.0 173.6l4.3 4.3m0 -4.3l-4.3 4.3M171.5 174.3l4.3 4.3m0 -4.3l-4.3 4.3M172.0 173.9l4.3 4.3m0 -4.3l-4.3 4.3M172.5 173.9l4.3 4.3m0 -4.3l-4.3 4.3M173.0 173.7l4.3 4.3m0 -4.3l-4.3 4.3M173.5 173.8l4.3 4.3m0 -4.3l-4.3 4.3M174.0 174.1l4.3 4.3m0 -4.3l-4.3 4.3M174.5 174.3l4.3 4.3m0 -4.3l-4.3 4.3M175.0 174.2l4.3 4.3m0 -4.3l-4.3 4.3M175.5 174.3l4.3 4.3m0 -4.3l-4.3 4.3M176.0 174.2l4.3 4.3m0 -4.3l-4.3 4.3M176.5 174.1l4.3 4.3m0 -4.3l-4.3 4.3M177.0 174.3l4.3 4.3m0 -4.3l-4.3 4.3M177.5 174.3l4.3 4.3m0 -4.3l-4.3 4.3M178.0 174.1l4.3 4.3m0 -4.3l-4.3 4.3M178.5 174.4l4.3 4.3m0 -4.3l-4.3 4.3M179.0 174.6l4.3 4.3m0 -4.3l-4.3 4.3M179.5 174.3l4.3 4.3m0 -4.3l-4.3 4.3M180.0 174.2l4.3 4.3m0 -4.3l-4.3 4.3M180.5 174.5l4.3 4.3m0 -4.3l-4.3 4.3M181.0 174.9l4.3 4.3m0 -4.3l-4.3 4.3M181.5 174.4l4.3 4.3m0 -4.3l-4.3 4.3M182.0 174.5l4.3 4.3m0 -4.3l-4.3 4.3M182.5 174.5l4.3 4.3m0 -4.3l-4.3 4.3M183.0 174.9l4.3 4.3m0 -4.3l-4.3 4.3M183.5 174.2l4.3 4.3m0 -4.3l-4.3 4.3M184.0 174.8l4.3 4.3m0 -4.3l-4.3 4.3M184.5 175.0l4.3 4.3m0 -4.3l-4.3 4.3M185.0 174.6l4.3 4.3m0 -4.3l-4.3 4.3M185.5 175.2l4.3 4.3m0 -4.3l-4.3 4.3M186.0 175.0l4.3 4.3m0 -4.3l-4.3 4.3M186.5 174.8l4.3 4.3m0 -4.3l-4.3 4.3M187.0 175.0l4.3 4.3m0 -4.3l-4.3 4.3M187.5 174.6l4.3 4.3m0 -4.3l-4.3 4.3M188.0 174.9l4.3 4.3m0 -4.3l-4.3 4.3M188.5 175.5l4.3 4.3m0 -4.3l-4.3 4.3M189.0 174.9l4.3 4.3m0 -4.3l-4.3 4.3M189.5 175.6l4.3 4.3m0 -4.3l-4.3 4.3M190.0 175.2l4.3 4.3m0 -4.3l-4.3 4.3M190.5 175.5l4.3 4.3m0 -4.3l-4.3 4.3M191.0 175.3l4.3 4.3m0 -4.3l-4.3 4.3M191.5 174.8l4.3 4.3m0 -4.3l-4.3 4.3M192.0 175.2l4.3 4.3m0 -4.3l-4.3 4.3M192.5 175.4l4.3 4.3m0 -4.3l-4.3 4.3M193.0 175.2l4.3 4.3m0 -4.3l-4.3 4.3M193.5 175.2l4.3 4.3m0 -4.3l-4.3 4.3M194.0 175.6l4.3 4.3m0 -4.3l-4.3 4.3M194.5 175.4l4.3 4.3m0 -4.3l-4.3 4.3M195.0 175.2l4.3 4.3m0 -4.3l-4.3 4.3M195.5 175.5l4.3 4.3m0 -4.3l-4.3 4.3M196.0 175.9l4.3 4.3m0 -4.3l-4.3 4.3M196.5 175.6l4.3 4.3m0 -4.3l-4.3 4.3M197.0 176.0l4.3 4.3m0 -4.3l-4.3 4.3M197.5 176.2l4.3 4.3m0 -4.3l-4.3 4.3M198.0 175.9l4.3 4.3m0 -4.3l-4.3 4.3M198.4 175.7l4.3 4.3m0 -4.3l-4.3 4.3M198.9 175.7l4.3 4.3m0 -4.3l-4.3 4.3M199.4 176.1l4.3 4.3m0 -4.3l-4.3 4.3M199.9 176.4l4.3 4.3m0 -4.3l-4.3 4.3M200.4 176.3l4.3 4.3m0 -4.3l-4.3 4.3M200.9 176.5l4.3 4.3m0 -4.3l-4.3 4.3M201.4 176.3l4.3 4.3m0 -4.3l-4.3 4.3M201.9 176.6l4.3 4.3m0 -4.3l-4.3 4.3M202.4 176.5l4.3 4.3m0 -4.3l-4.3 4.3M202.9 176.6l4.3 4.3m0 -4.3l-4.3 4.3M203.4 176.4l4.3 4.3m0 -4.3l-4.3 4.3M203.9 176.4l4.3 4.3m0 -4.3l-4.3 4.3M204.4 176.8l4.3 4.3m0 -4.3l-4.3 4.3M204.9 176.7l4.3 4.3m0 -4.3l-4.3 4.3M205.4 176.8l4.3 4.3m0 -4.3l-4.3 4.3M205.9 177.3l4.3 4.3m0 -4.3l-4.3 4.3M206.3 177.2l4.3 4.3m0 -4.3l-4.3 4.3M206.8 178.0l4.3 4.3m0 -4.3l-4.3 4.3M207.3 177.6l4.3 4.3m0 -4.3l-4.3 4.3M207.8 177.3l4.3 4.3m0 -4.3l-4.3 4.3M208.3 177.7l4.3 4.3m0 -4.3l-4.3 4.3M208.8 177.7l4.3 4.3m0 -4.3l-4.3 4.3M209.3 177.5l4.3 4.3m0 -4.3l-4.3 4.3M209.8 178.0l4.3 4.3m0 -4.3l-4.3 4.3M210.3 177.7l4.3 4.3m0 -4.3l-4.3 4.3M210.8 177.2l4.3 4.3m0 -4.3l-4.3 4.3M211.3 178.2l4.3 4.3m0 -4.3l-4.3 4.3M211.8 177.9l4.3 4.3m0 -4.3l-4.3 4.3M212.3 178.5l4.3 4.3m0 -4.3l-4.3 4.3M212.8 178.1l4.3 4.3m0 -4.3l-4.3 4.3M213.3 178.0l4.3 4.3m0 -4.3l-4.3 4.3M213.8 178.8l4.3 4.3m0 -4.3l-4.3 4.3M214.2 178.2l4.3 4.3m0 -4.3l-4.3 4.3M214.7 178.6l4.3 4.3m0 -4.3l-4.3 4.3M215.2 178.9l4.3 4.3m0 -4.3l-4.3 4.3M215.7 178.7l4.3 4.3m0 -4.3l-4.3 4.3M216.2 178.7l4.3 4.3m0 -4.3l-4.3 4.3M216.7 178.8l4.3 4.3m0 -4.3l-4.3 4.3M217.2 179.1l4.3 4.3m0 -4.3l-4.3 4.3M217.7 178.8l4.3 4.3m0 -4.3l-4.3 4.3M218.2 179.2l4.3 4.3m0 -4.3l-4.3 4.3M218.7 179.2l4.3 4.3m0 -4.3l-4.3 4.3M219.2 179.7l4.3 4.3m0 -4.3l-4.3 4.3M219.7 179.2l4.3 4.3m0 -4.3l-4.3 4.3M220.2 179.1l4.3 4.3m0 -4.3l-4.3 4.3M220.7 179.6l4.3 4.3m0 -4.3l-4.3 4.3M221.2 179.4l4.3 4.3m0 -4.3l-4.3 4.3M221.7 179.6l4.3 4.3m0 -4.3l-4.3 4.3M222.2 179.6l4.3 4.3m0 -4.3l-4.3 4.3M222.7 180.0l4.3 4.3m0 -4.3l-4.3 4.3M223.2 179.6l4.3 4.3m0 -4.3l-4.3 4.3M223.6 179.8l4.3 4.3m0 -4.3l-4.3 4.3M224.1 179.3l4.3 4.3m0 -4.3l-4.3 4.3M224.6 179.8l4.3 4.3m0 -4.3l-4.3 4.3M225.1 180.4l4.3 4.3m0 -4.3l-4.3 4.3M225.6 180.0l4.3 4.3m0 -4.3l-4.3 4.3M226.1 180.0l4.3 4.3m0 -4.3l-4.3 4.3M226.6 180.0l4.3 4.3m0 -4.3l-4.3 4.3M227.1 180.5l4.3 4.3m0 -4.3l-4.3 4.3M227.6 180.5l4.3 4.3m0 -4.3l-4.3 4.3M228.1 180.2l4.3 4.3m0 -4.3l-4.3 4.3M228.6 180.8l4.3 4.3m0 -4.3l-4.3 4.3M229.1 180.8l4.3 4.3m0 -4.3l-4.3 4.3M229.6 181.0l4.3 4.3m0 -4.3l-4.3 4.3M230.0 180.8l4.3 4.3m0 -4.3l-4.3 4.3M230.5 181.5l4.3 4.3m0 -4.3l-4.3 4.3M231.0 181.3l4.3 4.3m0 -4.3l-4.3 4.3M231.5 181.3l4.3 4.3m0 -4.3l-4.3 4.3M232.0 181.3l4.3 4.3m0 -4.3l-4.3 4.3M232.5 181.5l4.3 4.3m0 -4.3l-4.3 4.3M233.0 181.8l4.3 4.3m0 -4.3l-4.3 4.3M233.5 181.7l4.3 4.3m0 -4.3l-4.3 4.3M233.9 182.1l4.3 4.3m0 -4.3l-4.3 4.3M234.4 182.1l4.3 4.3m0 -4.3l-4.3 4.3M234.9 182.4l4.3 4.3m0 -4.3l-4.3 4.3M235.4 182.4l4.3 4.3m0 -4.3l-4.3 4.3M235.9 182.3l4.3 4.3m0 -4.3l-4.3 4.3M236.4 182.0l4.3 4.3m0 -4.3l-4.3 4.3M236.9 182.6l4.3 4.3m0 -4.3l-4.3 4.3M237.4 182.8l4.3 4.3m0 -4.3l-4.3 4.3M237.8 182.8l4.3 4.3m0 -4.3l-4.3 4.3M238.3 183.0l4.3 4.3m0 -4.3l-4.3 4.3M238.8 182.9l4.3 4.3m0 -4.3l-4.3 4.3M239.3 183.1l4.3 4.3m0 -4.3l-4.3 4.3M239.8 183.1l4.3 4.3m0 -4.3l-4.3 4.3M240.2 183.8l4.3 4.3m0 -4.3l-4.3 4.3M240.7 183.6l4.3 4.3m0 -4.3l-4.3 4.3M241.2 183.6l4.3 4.3m0 -4.3l-4.3 4.3M241.7 183.6l4.3 4.3m0 -4.3l-4.3 4.3M242.1 184.0l4.3 4.3m0 -4.3l-4.3 4.3M242.6 184.5l4.3 4.3m0 -4.3l-4.3 4.3M243.1 184.4l4.3 4.3m0 -4.3l-4.3 4.3M243.6 184.3l4.3 4.3m0 -4.3l-4.3 4.3M244.1 185.0l4.3 4.3m0 -4.3l-4.3 4.3M244.5 185.1l4.3 4.3m0 -4.3l-4.3 4.3M245.0 185.1l4.3 4.3m0 -4.3l-4.3 4.3M245.5 185.2l4.3 4.3m0 -4.3l-4.3 4.3M246.0 185.5l4.3 4.3m0 -4.3l-4.3 4.3M246.5 185.5l4.3 4.3m0 -4.3l-4.3 4.3M246.9 185.7l4.3 4.3m0 -4.3l-4.3 4.3M247.4 185.4l4.3 4.3m0 -4.3l-4.3 4.3M247.9 186.1l4.3 4.3m0 -4.3l-4.3 4.3M248.4 186.0l4.3 4.3m0 -4.3l-4.3 4.3M248.9 186.5l4.3 4.3m0 -4.3l-4.3 4.3M249.3 185.7l4.3 4.3m0 -4.3l-4.3 4.3M249.8 186.5l4.3 4.3m0 -4.3l-4.3 4.3M250.3 186.7l4.3 4.3m0 -4.3l-4.3 4.3M250.8 186.6l4.3 4.3m0 -4.3l-4.3 4.3M251.2 186.9l4.3 4.3m0 -4.3l-4.3 4.3M251.7 187.1l4.3 4.3m0 -4.3l-4.3 4.3M252.2 187.2l4.3 4.3m0 -4.3l-4.3 4.3M252.7 187.1l4.3 4.3m0 -4.3l-4.3 4.3M253.2 187.3l4.3 4.3m0 -4.3l-4.3 4.3M253.6 187.8l4.3 4.3m0 -4.3l-4.3 4.3M254.1 188.0l4.3 4.3m0 -4.3l-4.3 4.3M254.6 187.9l4.3 4.3m0 -4.3l-4.3 4.3M255.1 188.0l4.3 4.3m0 -4.3l-4.3 4.3M255.5 188.2l4.3 4.3m0 -4.3l-4.3 4.3M256.0 188.6l4.3 4.3m0 -4.3l-4.3 4.3M256.5 188.3l4.3 4.3m0 -4.3l-4.3 4.3M256.9 188.4l4.3 4.3m0 -4.3l-4.3 4.3M257.4 188.9l4.3 4.3m0 -4.3l-4.3 4.3M257.9 188.7l4.3 4.3m0 -4.3l-4.3 4.3M258.4 189.0l4.3 4.3m0 -4.3l-4.3 4.3M258.8 189.4l4.3 4.3m0 -4.3l-4.3 4.3M259.3 189.6l4.3 4.3m0 -4.3l-4.3 4.3M259.8 189.4l4.3 4.3m0 -4.3l-4.3 4.3M260.2 190.0l4.3 4.3m0 -4.3l-4.3 4.3M260.7 189.6l4.3 4.3m0 -4.3l-4.3 4.3M261.2 190.3l4.3 4.3m0 -4.3l-4.3 4.3M261.7 189.9l4.3 4.3m0 -4.3l-4.3 4.3M262.1 190.2l4.3 4.3m0 -4.3l-4.3 4.3M262.6 190.8l4.3 4.3m0 -4.3l-4.3 4.3M263.1 190.7l4.3 4.3m0 -4.3l-4.3 4.3M263.5 190.8l4.3 4.3m0 -4.3l-4.3 4.3M264.0 191.0l4.3 4.3m0 -4.3l-4.3 4.3M264.5 191.4l4.3 4.3m0 -4.3l-4.3 4.3M265.0 191.5l4.3 4.3m0 -4.3l-4.3 4.3M265.4 191.6l4.3 4.3m0 -4.3l-4.3 4.3M265.9 192.1l4.3 4.3m0 -4.3l-4.3 4.3M266.4 191.8l4.3 4.3m0 -4.3l-4.3 4.3M266.9 192.0l4.3 4.3m0 -4.3l-4.3 4.3M267.3 192.2l4.3 4.3m0 -4.3l-4.3 4.3M267.8 192.7l4.3 4.3m0 -4.3l-4.3 4.3M268.3 192.9l4.3 4.3m0 -4.3l-4.3 4.3M268.7 193.1l4.3 4.3m0 -4.3l-4.3 4.3M269.2 193.1l4.3 4.3m0 -4.3l-4.3 4.3M269.6 193.2l4.3 4.3m0 -4.3l-4.3 4.3M270.1 193.7l4.3 4.3m0 -4.3l-4.3 4.3M270.5 193.6l4.3 4.3m0 -4.3l-4.3 4.3M271.0 194.2l4.3 4.3m0 -4.3l-4.3 4.3M271.4 194.4l4.3 4.3m0 -4.3l-4.3 4.3M271.8 194.2l4.3 4.3m0 -4.3l-4.3 4.3M272.3 194.6l4.3 4.3m0 -4.3l-4.3 4.3M272.7 194.8l4.3 4.3m0 -4.3l-4.3 4.3M273.2 195.5l4.3 4.3m0 -4.3l-4.3 4.3M273.6 195.9l4.3 4.3m0 -4.3l-4.3 4.3M274.1 195.5l4.3 4.3m0 -4.3l-4.3 4.3M274.5 195.8l4.3 4.3m0 -4.3l-4.3 4.3M275.0 195.4l4.3 4.3m0 -4.3l-4.3 4.3M275.4 196.3l4.3 4.3m0 -4.3l-4.3 4.3M275.9 196.4l4.3 4.3m0 -4.3l-4.3 4.3M276.3 196.4l4.3 4.3m0 -4.3l-4.3 4.3M276.8 197.1l4.3 4.3m0 -4.3l-4.3 4.3M277.2 196.7l4.3 4.3m0 -4.3l-4.3 4.3M277.7 197.3l4.3 4.3m0 -4.3l-4.3 4.3M278.1 197.6l4.3 4.3m0 -4.3l-4.3 4.3M278.5 197.5l4.3 4.3m0 -4.3l-4.3 4.3M279.0 198.2l4.3 4.3m0 -4.3l-4.3 4.3M279.4 198.5l4.3 4.3m0 -4.3l-4.3 4.3M279.9 198.1l4.3 4.3m0 -4.3l-4.3 4.3M280.3 198.3l4.3 4.3m0 -4.3l-4.3 4.3M280.8 199.1l4.3 4.3m0 -4.3l-4.3 4.3M281.2 199.1l4.3 4.3m0 -4.3l-4.3 4.3M281.7 199.1l4.3 4.3m0 -4.3l-4.3 4.3M282.1 199.5l4.3 4.3m0 -4.3l-4.3 4.3M282.6 199.8l4.3 4.3m0 -4.3l-4.3 4.3M283.0 200.0l4.3 4.3m0 -4.3l-4.3 4.3M283.5 200.5l4.3 4.3m0 -4.3l-4.3 4.3M283.9 200.6l4.3 4.3m0 -4.3l-4.3 4.3M284.3 201.2l4.3 4.3m0 -4.3l-4.3 4.3M284.7 201.4l4.3 4.3m0 -4.3l-4.3 4.3M285.1 201.5l4.3 4.3m0 -4.3l-4.3 4.3M285.5 201.9l4.3 4.3m0 -4.3l-4.3 4.3M285.9 202.3l4.3 4.3m0 -4.3l-4.3 4.3M286.3 202.4l4.3 4.3m0 -4.3l-4.3 4.3M286.8 202.2l4.3 4.3m0 -4.3l-4.3 4.3M287.2 203.0l4.3 4.3m0 -4.3l-4.3 4.3M287.6 203.1l4.3 4.3m0 -4.3l-4.3 4.3M288.0 203.8l4.3 4.3m0 -4.3l-4.3 4.3M288.4 203.7l4.3 4.3m0 -4.3l-4.3 4.3M288.8 204.1l4.3 4.3m0 -4.3l-4.3 4.3M289.2 204.3l4.3 4.3m0 -4.3l-4.3 4.3M289.6 204.9l4.3 4.3m0 -4.3l-4.3 4.3M290.0 204.9l4.3 4.3m0 -4.3l-4.3 4.3M290.4 205.0l4.3 4.3m0 -4.3l-4.3 4.3M290.9 205.5l4.3 4.3m0 -4.3l-4.3 4.3M291.3 205.6l4.3 4.3m0 -4.3l-4.3 4.3M291.7 206.0l4.3 4.3m0 -4.3l-4.3 4.3M292.1 206.2l4.3 4.3m0 -4.3l-4.3 4.3M292.5 206.6l4.3 4.3m0 -4.3l-4.3 4.3M292.9 207.3l4.3 4.3m0 -4.3l-4.3 4.3M293.3 207.0l4.3 4.3m0 -4.3l-4.3 4.3M293.7 207.4l4.3 4.3m0 -4.3l-4.3 4.3M294.1 207.6l4.3 4.3m0 -4.3l-4.3 4.3M294.5 208.1l4.3 4.3m0 -4.3l-4.3 4.3M294.9 208.0l4.3 4.3m0 -4.3l-4.3 4.3M295.4 208.4l4.3 4.3m0 -4.3l-4.3 4.3M295.8 208.8l4.3 4.3m0 -4.3l-4.3 4.3M296.2 209.2l4.3 4.3m0 -4.3l-4.3 4.3M296.6 209.4l4.3 4.3m0 -4.3l-4.3 4.3M297.0 209.6l4.3 4.3m0 -4.3l-4.3 4.3M297.4 209.8l4.3 4.3m0 -4.3l-4.3 4.3M297.8 210.4l4.3 4.3m0 -4.3l-4.3 4.3M298.2 210.9l4.3 4.3m0 -4.3l-4.3 4.3M298.9 211.1l4.3 4.3m0 -4.3l-4.3 4.3M299.5 211.5l4.3 4.3m0 -4.3l-4.3 4.3M300.2 212.0l4.3 4.3m0 -4.3l-4.3 4.3M300.8 212.2l4.3 4.3m0 -4.3l-4.3 4.3M301.5 212.8l4.3 4.3m0 -4.3l-4.3 4.3M302.2 213.2l4.3 4.3m0 -4.3l-4.3 4.3M302.8 213.8l4.3 4.3m0 -4.3l-4.3 4.3M303.5 214.2l4.3 4.3m0 -4.3l-4.3 4.3M304.1 214.4l4.3 4.3m0 -4.3l-4.3 4.3M304.8 215.4l4.3 4.3m0 -4.3l-4.3 4.3M305.4 216.0l4.3 4.3m0 -4.3l-4.3 4.3M306.1 216.0l4.3 4.3m0 -4.3l-4.3 4.3M306.7 216.6l4.3 4.3m0 -4.3l-4.3 4.3M307.4 217.1l4.3 4.3m0 -4.3l-4.3 4.3M308.0 217.6l4.3 4.3m0 -4.3l-4.3 4.3M308.7 217.6l4.3 4.3m0 -4.3l-4.3 4.3M309.3 218.8l4.3 4.3m0 -4.3l-4.3 4.3M310.0 218.7l4.3 4.3m0 -4.3l-4.3 4.3M310.7 219.6l4.3 4.3m0 -4.3l-4.3 4.3M311.3 219.8l4.3 4.3m0 -4.3l-4.3 4.3M312.0 220.1l4.3 4.3m0 -4.3l-4.3 4.3M312.6 220.6l4.3 4.3m0 -4.3l-4.3 4.3M313.3 221.3l4.3 4.3m0 -4.3l-4.3 4.3M313.9 221.4l4.3 4.3m0 -4.3l-4.3 4.3M314.5 222.1l4.3 4.3m0 -4.3l-4.3 4.3M315.0 222.6l4.3 4.3m0 -4.3l-4.3 4.3M315.6 222.9l4.3 4.3m0 -4.3l-4.3 4.3M316.1 224.2l4.3 4.3m0 -4.3l-4.3 4.3M316.7 224.6l4.3 4.3m0 -4.3l-4.3 4.3M317.2 225.1l4.3 4.3m0 -4.3l-4.3 4.3M317.7 226.0l4.3 4.3m0 -4.3l-4.3 4.3M318.3 226.1l4.3 4.3m0 -4.3l-4.3 4.3M318.8 226.9l4.3 4.3m0 -4.3l-4.3 4.3M319.3 227.9l4.3 4.3m0 -4.3l-4.3 4.3M319.9 228.3l4.3 4.3m0 -4.3l-4.3 4.3M320.4 228.1l4.3 4.3m0 -4.3l-4.3 4.3M321.0 228.4l4.3 4.3m0 -4.3l-4.3 4.3M321.5 229.6l4.3 4.3m0 -4.3l-4.3 4.3M322.0 230.7l4.3 4.3m0 -4.3l-4.3 4.3M322.6 230.9l4.3 4.3m0 -4.3l-4.3 4.3M323.1 231.6l4.3 4.3m0 -4.3l-4.3 4.3M327.1 234.8l4.3 4.3m0 -4.3l-4.3 4.3M329.9 236.7l4.3 4.3m0 -4.3l-4.3 4.3M333.2 238.5l4.3 4.3m0 -4.3l-4.3 4.3M335.4 240.0l4.3 4.3m0 -4.3l-4.3 4.3M337.7 241.5l4.3 4.3m0 -4.3l-4.3 4.3M339.2 243.0l4.3 4.3m0 -4.3l-4.3 4.3M340.8 244.7l4.3 4.3m0 -4.3l-4.3 4.3M342.9 246.8l4.3 4.3m0 -4.3l-4.3 4.3M345.4 249.2l4.3 4.3m0 -4.3l-4.3 4.3M346.9 251.2l4.3 4.3m0 -4.3l-4.3 4.3M348.4 253.0l4.3 4.3m0 -4.3l-4.3 4.3M349.2 256.9l4.3 4.3m0 -4.3l-4.3 4.3M349.9 260.7l4.3 4.3m0 -4.3l-4.3 4.3M350.7 264.5l4.3 4.3m0 -4.3l-4.3 4.3M354.5 268.4l4.3 4.3m0 -4.3l-4.3 4.3M355.2 273.7l4.3 4.3m0 -4.3l-4.3 4.3M357.6 282.1l4.3 4.3m0 -4.3l-4.3 4.3" fill="none" stroke="#7E2F8E" stroke-width="0.8" opacity="1"/>
<path d="M53.4 172.8l4.3 4.3m0 -4.3l-4.3 4.3M55.6 172.8l4.3 4.3m0 -4.3l-4.3 4.3M57.8 172.8l4.3 4.3m0 -4.3l-4.3 4.3M60.0 172.8l4.3 4.3m0 -4.3l-4.3 4.3M62.1 172.8l4.3 4.3m0 -4.3l-4.3 4.3M64.3 172.8l4.3 4.3m0 -4.3l-4.3 4.3M66.5 172.8l4.3 4.3m0 -4.3l-4.3 4.3M68.8 172.8l4.3 4.3m0 -4.3l-4.3 4.3M70.9 172.8l4.3 4.3m0 -4.3l-4.3 4.3M73.1 172.8l4.3 4.3m0 -4.3l-4.3 4.3M75.3 172.8l4.3 4.3m0 -4.3l-4.3 4.3M77.5 172.8l4.3 4.3m0 -4.3l-4.3 4.3M79.7 172.8l4.3 4.3m0 -4.3l-4.3 4.3M81.9 172.8l4.3 4.3m0 -4.3l-4.3 4.3M84.1 172.8l4.3 4.3m0 -4.3l-4.3 4.3M86.3 172.8l4.3 4.3m0 -4.3l-4.3 4.3M88.5 172.8l4.3 4.3m0 -4.3l-4.3 4.3M93.9 172.8l4.3 4.3m0 -4.3l-4.3 4.3M94.3 172.8l4.3 4.3m0 -4.3l-4.3 4.3M94.8 172.8l4.3 4.3m0 -4.3l-4.3 4.3M95.2 172.8l4.3 4.3m0 -4.3l-4.3 4.3M95.7 172.8l4.3 4.3m0 -4.3l-4.3 4.3M96.1 172.8l4.3 4.3m0 -4.3l-4.3 4.3M96.6 172.9l4.3 4.3m0 -4.3l-4.3 4.3M97.0 172.9l4.3 4.3m0 -4.3l-4.3 4.3M97.5 172.9l4.3 4.3m0 -4.3l-4.3 4.3M97.9 172.9l4.3 4.3m0 -4.3l-4.3 4.3M98.4 172.9l4.3 4.3m0 -4.3l-4.3 4.3M98.8 172.9l4.3 4.3m0 -4.3l-4.3 4.3M99.3 172.9l4.3 4.3m0 -4.3l-4.3 4.3M99.7 172.9l4.3 4.3m0 -4.3l-4.3 4.3M100.2 172.9l4.3 4.3m0 -4.3l-4.3 4.3M100.6 172.9l4.3 4.3m0 -4.3l-4.3 4.3M101.1 173.0l4.3 4.3m0 -4.3l-4.3 4.3M101.5 173.0l4.3 4.3m0 -4.3l-4.3 4.3M102.0 173.0l4.3 4.3m0 -4.3l-4.3 4.3M102.4 173.0l4.3 4.3m0 -4.3l-4.3 4.3M102.9 173.0l4.3 4.3m0 -4.3l-4.3 4.3M103.3 173.0l4.3 4.3m0 -4.3l-4.3 4.3M103.8 173.0l4.3 4.3m0 -4.3l-4.3 4.3M104.2 173.0l4.3 4.3m0 -4.3l-4.3 4.3M104.7 173.0l4.3 4.3m0 -4.3l-4.3 4.3M105.1 173.0l4.3 4.3m0 -4.3l-4.3 4.3M105.6 173.1l4.3 4.3m0 -4.3l-4.3 4.3M106.0 173.1l4.3 4.3m0 -4.3l-4.3 4.3M106.5 173.1l4.3 4.3m0 -4.3l-4.3 4.3M106.9 173.1l4.3 4.3m0 -4.3l-4.3 4.3M107.4 173.1l4.3 4.3m0 -4.3l-4.3 4.3M107.8 173.1l4.3 4.3m0 -4.3l-4.3 4.3M108.3 173.1l4.3 4.3m0 -4.3l-4.3 4.3M108.7 173.1l4.3 4.3m0 -4.3l-4.3 4.3M109.2 173.1l4.3 4.3m0 -4.3l-4.3 4.3M109.6 173.1l4.3 4.3m0 -4.3l-4.3 4.3M110.1 173.2l4.3 4.3m0 -4.3l-4.3 4.3M110.5 173.2l4.3 4.3m0 -4.3l-4.3 4.3M111.0 173.2l4.3 4.3m0 -4.3l-4.3 4.3M111.4 173.2l4.3 4.3m0 -4.3l-4.3 4.3M111.9 173.2l4.3 4.3m0 -4.3l-4.3 4.3M112.3 173.2l4.3 4.3m0 -4.3l-4.3 4.3M112.8 173.2l4.3 4.3m0 -4.3l-4.3 4.3M113.2 173.2l4.3 4.3m0 -4.3l-4.3 4.3M113.7 173.2l4.3 4.3m0 -4.3l-4.3 4.3M114.1 173.2l4.3 4.3m0 -4.3l-4.3 4.3M114.6 173.3l4.3 4.3m0 -4.3l-4.3 4.3M115.0 173.3l4.3 4.3m0 -4.3l-4.3 4.3M115.5 173.3l4.3 4.3m0 -4.3l-4.3 4.3M115.9 173.3l4.3 4.3m0 -4.3l-4.3 4.3M116.4 173.3l4.3 4.3m0 -4.3l-4.3 4.3M116.8 173.3l4.3 4.3m0 -4.3l-4.3 4.3M117.3 173.3l4.3 4.3m0 -4.3l-4.3 4.3M117.7 173.3l4.3 4.3m0 -4.3l-4.3 4.3M118.2 173.3l4.3 4.3m0 -4.3l-4.3 4.3M118.6 173.3l4.3 4.3m0 -4.3l-4.3 4.3M119.1 173.4l4.3 4.3m0 -4.3l-4.3 4.3M119.5 173.4l4.3 4.3m0 -4.3l-4.3 4.3M120.0 173.4l4.3 4.3m0 -4.3l-4.3 4.3M120.4 173.4l4.3 4.3m0 -4.3l-4.3 4.3M120.9 173.4l4.3 4.3m0 -4.3l-4.3 4.3M121.3 173.4l4.3 4.3m0 -4.3l-4.3 4.3M121.8 173.4l4.3 4.3m0 -4.3l-4.3 4.3M122.2 173.4l4.3 4.3m0 -4.3l-4.3 4.3M122.7 173.4l4.3 4.3m0 -4.3l-4.3 4.3M123.1 173.4l4.3 4.3m0 -4.3l-4.3 4.3M123.6 173.5l4.3 4.3m0 -4.3l-4.3 4.3M124.0 173.5l4.3 4.3m0 -4.3l-4.3 4.3M124.5 173.5l4.3 4.3m0 -4.3l-4.3 4.3M124.9 173.5l4.3 4.3m0 -4.3l-4.3 4.3M125.4 173.5l4.3 4.3m0 -4.3l-4.3 4.3M125.8 173.5l4.3 4.3m0 -4.3l-4.3 4.3M126.3 173.5l4.3 4.3m0 -4.3l-4.3 4.3M126.7 173.5l4.3 4.3m0 -4.3l-4.3 4.3M127.2 173.5l4.3 4.3m0 -4.3l-4.3 4.3M127.6 173.5l4.3 4.3m0 -4.3l-4.3 4.3M128.1 173.6l4.3 4.3m0 -4.3l-4.3 4.3M128.5 173.6l4.3 4.3m0 -4.3l-4.3 4.3M129.0 173.6l4.3 4.3m0 -4.3l-4.3 4.3M129.4 173.7l4.3 4.3m0 -4.3l-4.3 4.3M129.9 173.7l4.3 4.3m0 -4.3l-4.3 4.3M130.3 173.7l4.3 4.3m0 -4.3l-4.3 4.3M130.8 173.8l4.3 4.3m0 -4.3l-4.3 4.3M131.2 173.8l4.3 4.3m0 -4.3l-4.3 4.3M131.7 173.8l4.3 4.3m0 -4.3l-4.3 4.3M132.1 173.9l4.3 4.3m0 -4.3l-4.3 4.3M132.6 173.9l4.3 4.3m0 -4.3l-4.3 4.3M133.0 173.9l4.3 4.3m0 -4.3l-4.3 4.3M133.5 174.0l4.3 4.3m0 -4.3l-4.3 4.3M133.9 174.0l4.3 4.3m0 -4.3l-4.3 4.3M134.4 174.0l4.3 4.3m0 -4.3l-4.3 4.3M134.8 174.1l4.3 4.3m0 -4.3l-4.3 4.3M135.3 174.1l4.3 4.3m0 -4.3l-4.3 4.3M135.7 174.1l4.3 4.3m0 -4.3l-4.3 4.3M136.2 174.1l4.3 4.3m0 -4.3l-4.3 4.3M136.6 174.2l4.3 4.3m0 -4.3l-4.3 4.3M137.1 174.2l4.3 4.3m0 -4.3l-4.3 4.3M137.5 174.2l4.3 4.3m0 -4.3l-4.3 4.3M138.0 174.3l4.3 4.3m0 -4.3l-4.3 4.3M138.4 174.3l4.3 4.3m0 -4.3l-4.3 4.3M138.9 174.3l4.3 4.3m0 -4.3l-4.3 4.3M139.3 174.4l4.3 4.3m0 -4.3l-4.3 4.3M139.8 174.4l4.3 4.3m0 -4.3l-4.3 4.3M140.2 174.4l4.3 4.3m0 -4.3l-4.3 4.3M140.7 174.5l4.3 4.3m0 -4.3l-4.3 4.3M141.1 174.5l4.3 4.3m0 -4.3l-4.3 4.3M141.6 174.5l4.3 4.3m0 -4.3l-4.3 4.3M142.0 174.6l4.3 4.3m0 -4.3l-4.3 4.3M142.5 174.6l4.3 4.3m0 -4.3l-4.3 4.3M142.9 174.6l4.3 4.3m0 -4.3l-4.3 4.3M143.4 174.7l4.3 4.3m0 -4.3l-4.3 4.3M143.8 174.7l4.3 4.3m0 -4.3l-4.3 4.3M144.2 174.7l4.3 4.3m0 -4.3l-4.3 4.3M144.7 174.8l4.3 4.3m0 -4.3l-4.3 4.3M145.1 174.8l4.3 4.3m0 -4.3l-4.3 4.3M145.6 174.8l4.3 4.3m0 -4.3l-4.3 4.3M146.0 174.9l4.3 4.3m0 -4.3l-4.3 4.3M146.5 174.9l4.3 4.3m0 -4.3l-4.3 4.3M146.9 174.9l4.3 4.3m0 -4.3l-4.3 4.3M147.4 175.0l4.3 4.3m0 -4.3l-4.3 4.3M147.8 175.0l4.3 4.3m0 -4.3l-4.3 4.3M148.3 175.0l4.3 4.3m0 -4.3l-4.3 4.3M148.7 174.6l4.3 4.3m0 -4.3l-4.3 4.3M149.2 175.5l4.3 4.3m0 -4.3l-4.3 4.3M149.6 174.4l4.3 4.3m0 -4.3l-4.3 4.3M150.1 175.1l4.3 4.3m0 -4.3l-4.3 4.3M150.5 175.7l4.3 4.3m0 -4.3l-4.3 4.3M151.0 175.2l4.3 4.3m0 -4.3l-4.3 4.3M151.4 175.3l4.3 4.3m0 -4.3l-4.3 4.3M151.9 175.0l4.3 4.3m0 -4.3l-4.3 4.3M152.3 175.6l4.3 4.3m0 -4.3l-4.3 4.3M152.8 175.0l4.3 4.3m0 -4.3l-4.3 4.3M153.2 175.4l4.3 4.3m0 -4.3l-4.3 4.3M153.7 175.5l4.3 4.3m0 -4.3l-4.3 4.3M154.1 175.2l4.3 4.3m0 -4.3l-4.3 4.3M154.6 175.7l4.3 4.3m0 -4.3l-4.3 4.3M155.0 175.2l4.3 4.3m0 -4.3l-4.3 4.3M155.5 175.4l4.3 4.3m0 -4.3l-4.3 4.3M155.9 175.6l4.3 4.3m0 -4.3l-4.3 4.3M156.4 175.6l4.3 4.3m0 -4.3l-4.3 4.3M156.8 175.9l4.3 4.3m0 -4.3l-4.3 4.3M157.3 176.0l4.3 4.3m0 -4.3l-4.3 4.3M157.7 175.8l4.3 4.3m0 -4.3l-4.3 4.3M158.1 175.8l4.3 4.3m0 -4.3l-4.3 4.3M158.6 175.8l4.3 4.3m0 -4.3l-4.3 4.3M159.0 175.9l4.3 4.3m0 -4.3l-4.3 4.3M159.5 176.2l4.3 4.3m0 -4.3l-4.3 4.3M159.9 176.0l4.3 4.3m0 -4.3l-4.3 4.3M160.4 176.2l4.3 4.3m0 -4.3l-4.3 4.3M160.8 176.1l4.3 4.3m0 -4.3l-4.3 4.3M161.3 176.0l4.3 4.3m0 -4.3l-4.3 4.3M161.7 176.4l4.3 4.3m0 -4.3l-4.3 4.3M162.2 176.0l4.3 4.3m0 -4.3l-4.3 4.3M162.6 176.3l4.3 4.3m0 -4.3l-4.3 4.3M163.1 176.7l4.3 4.3m0 -4.3l-4.3 4.3M163.5 176.2l4.3 4.3m0 -4.3l-4.3 4.3M164.0 176.4l4.3 4.3m0 -4.3l-4.3 4.3M164.4 176.1l4.3 4.3m0 -4.3l-4.3 4.3M164.9 176.4l4.3 4.3m0 -4.3l-4.3 4.3M165.3 176.2l4.3 4.3m0 -4.3l-4.3 4.3M165.8 176.6l4.3 4.3m0 -4.3l-4.3 4.3M166.2 176.6l4.3 4.3m0 -4.3l-4.3 4.3M166.7 176.8l4.3 4.3m0 -4.3l-4.3 4.3M167.1 177.2l4.3 4.3m0 -4.3l-4.3 4.3M167.6 176.9l4.3 4.3m0 -4.3l-4.3 4.3M168.0 177.0l4.3 4.3m0 -4.3l-4.3 4.3M168.4 176.9l4.3 4.3m0 -4.3l-4.3 4.3M168.9 177.0l4.3 4.3m0 -4.3l-4.3 4.3M169.3 176.9l4.3 4.3m0 -4.3l-4.3 4.3M169.8 176.7l4.3 4.3m0 -4.3l-4.3 4.3M170.2 177.2l4.3 4.3m0 -4.3l-4.3 4.3M170.7 177.7l4.3 4.3m0 -4.3l-4.3 4.3M171.1 177.5l4.3 4.3m0 -4.3l-4.3 4.3M171.6 177.3l4.3 4.3m0 -4.3l-4.3 4.3M172.0 177.9l4.3 4.3m0 -4.3l-4.3 4.3M172.4 177.5l4.3 4.3m0 -4.3l-4.3 4.3M172.9 177.5l4.3 4.3m0 -4.3l-4.3 4.3M173.3 177.4l4.3 4.3m0 -4.3l-4.3 4.3M173.8 177.6l4.3 4.3m0 -4.3l-4.3 4.3M174.2 177.8l4.3 4.3m0 -4.3l-4.3 4.3M174.7 178.4l4.3 4.3m0 -4.3l-4.3 4.3M175.1 178.0l4.3 4.3m0 -4.3l-4.3 4.3M175.6 177.8l4.3 4.3m0 -4.3l-4.3 4.3M176.0 178.0l4.3 4.3m0 -4.3l-4.3 4.3M176.4 178.2l4.3 4.3m0 -4.3l-4.3 4.3M176.9 177.9l4.3 4.3m0 -4.3l-4.3 4.3M177.3 178.4l4.3 4.3m0 -4.3l-4.3 4.3M177.8 178.6l4.3 4.3m0 -4.3l-4.3 4.3M178.2 178.6l4.3 4.3m0 -4.3l-4.3 4.3M178.7 178.7l4.3 4.3m0 -4.3l-4.3 4.3M179.1 178.3l4.3 4.3m0 -4.3l-4.3 4.3M179.6 178.3l4.3 4.3m0 -4.3l-4.3 4.3M180.0 179.1l4.3 4.3m0 -4.3l-4.3 4.3M180.4 179.1l4.3 4.3m0 -4.3l-4.3 4.3M180.9 178.6l4.3 4.3m0 -4.3l-4.3 4.3M181.3 179.1l4.3 4.3m0 -4.3l-4.3 4.3M181.8 179.1l4.3 4.3m0 -4.3l-4.3 4.3M182.2 179.3l4.3 4.3m0 -4.3l-4.3 4.3M182.7 179.3l4.3 4.3m0 -4.3l-4.3 4.3M183.1 179.2l4.3 4.3m0 -4.3l-4.3 4.3M183.6 179.4l4.3 4.3m0 -4.3l-4.3 4.3M184.0 179.5l4.3 4.3m0 -4.3l-4.3 4.3M184.4 179.5l4.3 4.3m0 -4.3l-4.3 4.3M184.9 179.1l4.3 4.3m0 -4.3l-4.3 4.3M185.3 178.9l4.3 4.3m0 -4.3l-4.3 4.3M185.8 179.5l4.3 4.3m0 -4.3l-4.3 4.3M186.2 179.4l4.3 4.3m0 -4.3l-4.3 4.3M186.7 179.9l4.3 4.3m0 -4.3l-4.3 4.3M187.1 180.1l4.3 4.3m0 -4.3l-4.3 4.3M187.6 180.1l4.3 4.3m0 -4.3l-4.3 4.3M188.0 180.0l4.3 4.3m0 -4.3l-4.3 4.3M188.4 180.2l4.3 4.3m0 -4.3l-4.3 4.3M188.9 180.6l4.3 4.3m0 -4.3l-4.3 4.3M189.3 180.2l4.3 4.3m0 -4.3l-4.3 4.3M189.8 180.7l4.3 4.3m0 -4.3l-4.3 4.3M190.2 180.7l4.3 4.3m0 -4.3l-4.3 4.3M190.6 180.7l4.3 4.3m0 -4.3l-4.3 4.3M191.1 181.1l4.3 4.3m0 -4.3l-4.3 4.3M191.5 180.7l4.3 4.3m0 -4.3l-4.3 4.3M192.0 181.2l4.3 4.3m0 -4.3l-4.3 4.3M192.4 180.8l4.3 4.3m0 -4.3l-4.3 4.3M192.8 180.9l4.3 4.3m0 -4.3l-4.3 4.3M193.3 181.0l4.3 4.3m0 -4.3l-4.3 4.3M193.7 181.4l4.3 4.3m0 -4.3l-4.3 4.3M194.2 181.2l4.3 4.3m0 -4.3l-4.3 4.3M194.6 181.5l4.3 4.3m0 -4.3l-4.3 4.3M195.0 181.3l4.3 4.3m0 -4.3l-4.3 4.3M195.5 181.9l4.3 4.3m0 -4.3l-4.3 4.3M195.9 182.2l4.3 4.3m0 -4.3l-4.3 4.3M196.4 181.9l4.3 4.3m0 -4.3l-4.3 4.3M196.8 182.4l4.3 4.3m0 -4.3l-4.3 4.3M197.2 182.2l4.3 4.3m0 -4.3l-4.3 4.3M197.7 182.7l4.3 4.3m0 -4.3l-4.3 4.3M198.1 182.3l4.3 4.3m0 -4.3l-4.3 4.3M198.6 182.0l4.3 4.3m0 -4.3l-4.3 4.3M199.0 182.8l4.3 4.3m0 -4.3l-4.3 4.3M199.4 182.5l4.3 4.3m0 -4.3l-4.3 4.3M199.9 182.4l4.3 4.3m0 -4.3l-4.3 4.3M200.3 182.6l4.3 4.3m0 -4.3l-4.3 4.3M200.8 182.4l4.3 4.3m0 -4.3l-4.3 4.3M201.2 182.9l4.3 4.3m0 -4.3l-4.3 4.3M201.6 182.8l4.3 4.3m0 -4.3l-4.3 4.3M202.1 183.5l4.3 4.3m0 -4.3l-4.3 4.3M202.5 183.4l4.3 4.3m0 -4.3l-4.3 4.3M203.0 182.9l4.3 4.3m0 -4.3l-4.3 4.3M203.4 183.0l4.3 4.3m0 -4.3l-4.3 4.3M203.8 183.4l4.3 4.3m0 -4.3l-4.3 4.3M204.3 183.1l4.3 4.3m0 -4.3l-4.3 4.3M204.7 183.6l4.3 4.3m0 -4.3l-4.3 4.3M205.2 183.8l4.3 4.3m0 -4.3l-4.3 4.3M205.6 183.7l4.3 4.3m0 -4.3l-4.3 4.3M206.0 183.8l4.3 4.3m0 -4.3l-4.3 4.3M206.5 184.2l4.3 4.3m0 -4.3l-4.3 4.3M206.9 184.5l4.3 4.3m0 -4.3l-4.3 4.3M207.4 184.6l4.3 4.3m0 -4.3l-4.3 4.3M207.8 184.3l4.3 4.3m0 -4.3l-4.3 4.3M208.2 184.7l4.3 4.3m0 -4.3l-4.3 4.3M208.7 184.4l4.3 4.3m0 -4.3l-4.3 4.3M209.1 184.8l4.3 4.3m0 -4.3l-4.3 4.3M209.5 184.6l4.3 4.3m0 -4.3l-4.3 4.3M210.0 185.1l4.3 4.3m0 -4.3l-4.3 4.3M210.4 184.7l4.3 4.3m0 -4.3l-4.3 4.3M210.8 184.9l4.3 4.3m0 -4.3l-4.3 4.3M211.3 185.3l4.3 4.3m0 -4.3l-4.3 4.3M211.7 185.5l4.3 4.3m0 -4.3l-4.3 4.3M212.1 185.1l4.3 4.3m0 -4.3l-4.3 4.3M212.6 185.5l4.3 4.3m0 -4.3l-4.3 4.3M213.0 185.8l4.3 4.3m0 -4.3l-4.3 4.3M213.4 185.9l4.3 4.3m0 -4.3l-4.3 4.3M213.9 185.8l4.3 4.3m0 -4.3l-4.3 4.3M214.3 186.1l4.3 4.3m0 -4.3l-4.3 4.3M214.7 186.1l4.3 4.3m0 -4.3l-4.3 4.3M215.2 186.6l4.3 4.3m0 -4.3l-4.3 4.3M215.6 186.6l4.3 4.3m0 -4.3l-4.3 4.3M216.1 186.2l4.3 4.3m0 -4.3l-4.3 4.3M216.5 186.1l4.3 4.3m0 -4.3l-4.3 4.3M216.9 186.8l4.3 4.3m0 -4.3l-4.3 4.3M217.4 187.2l4.3 4.3m0 -4.3l-4.3 4.3M217.8 187.0l4.3 4.3m0 -4.3l-4.3 4.3M218.2 187.3l4.3 4.3m0 -4.3l-4.3 4.3M218.7 187.1l4.3 4.3m0 -4.3l-4.3 4.3M219.1 187.0l4.3 4.3m0 -4.3l-4.3 4.3M219.5 187.6l4.3 4.3m0 -4.3l-4.3 4.3M220.0 187.6l4.3 4.3m0 -4.3l-4.3 4.3M220.4 187.9l4.3 4.3m0 -4.3l-4.3 4.3M220.8 187.5l4.3 4.3m0 -4.3l-4.3 4.3M221.3 188.0l4.3 4.3m0 -4.3l-4.3 4.3M221.7 187.9l4.3 4.3m0 -4.3l-4.3 4.3M222.1 188.4l4.3 4.3m0 -4.3l-4.3 4.3M222.6 188.1l4.3 4.3m0 -4.3l-4.3 4.3M223.0 188.3l4.3 4.3m0 -4.3l-4.3 4.3M223.4 188.4l4.3 4.3m0 -4.3l-4.3 4.3M223.9 189.0l4.3 4.3m0 -4.3l-4.3 4.3M224.3 188.8l4.3 4.3m0 -4.3l-4.3 4.3M224.7 188.8l4.3 4.3m0 -4.3l-4.3 4.3M225.1 188.9l4.3 4.3m0 -4.3l-4.3 4.3M225.6 189.0l4.3 4.3m0 -4.3l-4.3 4.3M226.0 189.8l4.3 4.3m0 -4.3l-4.3 4.3M226.4 189.1l4.3 4.3m0 -4.3l-4.3 4.3M226.8 189.5l4.3 4.3m0 -4.3l-4.3 4.3M227.3 190.0l4.3 4.3m0 -4.3l-4.3 4.3M227.7 190.3l4.3 4.3m0 -4.3l-4.3 4.3M228.1 190.1l4.3 4.3m0 -4.3l-4.3 4.3M228.5 190.5l4.3 4.3m0 -4.3l-4.3 4.3M229.0 190.6l4.3 4.3m0 -4.3l-4.3 4.3M229.4 190.8l4.3 4.3m0 -4.3l-4.3 4.3M229.8 190.7l4.3 4.3m0 -4.3l-4.3 4.3M230.2 191.3l4.3 4.3m0 -4.3l-4.3 4.3M230.7 191.1l4.3 4.3m0 -4.3l-4.3 4.3M231.1 191.5l4.3 4.3m0 -4.3l-4.3 4.3M231.5 191.0l4.3 4.3m0 -4.3l-4.3 4.3M232.0 191.7l4.3 4.3m0 -4.3l-4.3 4.3M232.4 191.3l4.3 4.3m0 -4.3l-4.3 4.3M232.8 191.4l4.3 4.3m0 -4.3l-4.3 4.3M233.2 192.0l4.3 4.3m0 -4.3l-4.3 4.3M233.7 191.8l4.3 4.3m0 -4.3l-4.3 4.3M234.1 192.3l4.3 4.3m0 -4.3l-4.3 4.3M234.5 192.1l4.3 4.3m0 -4.3l-4.3 4.3M234.9 192.9l4.3 4.3m0 -4.3l-4.3 4.3M235.4 192.6l4.3 4.3m0 -4.3l-4.3 4.3M235.8 192.5l4.3 4.3m0 -4.3l-4.3 4.3M236.2 192.9l4.3 4.3m0 -4.3l-4.3 4.3M236.6 193.3l4.3 4.3m0 -4.3l-4.3 4.3M237.1 193.0l4.3 4.3m0 -4.3l-4.3 4.3M237.5 193.5l4.3 4.3m0 -4.3l-4.3 4.3M237.9 194.0l4.3 4.3m0 -4.3l-4.3 4.3M238.3 193.9l4.3 4.3m0 -4.3l-4.3 4.3M238.7 193.9l4.3 4.3m0 -4.3l-4.3 4.3M239.1 194.0l4.3 4.3m0 -4.3l-4.3 4.3M239.5 194.4l4.3 4.3m0 -4.3l-4.3 4.3M239.9 194.1l4.3 4.3m0 -4.3l-4.3 4.3M240.3 194.0l4.3 4.3m0 -4.3l-4.3 4.3M240.7 194.7l4.3 4.3m0 -4.3l-4.3 4.3M241.1 194.8l4.3 4.3m0 -4.3l-4.3 4.3M241.5 195.7l4.3 4.3m0 -4.3l-4.3 4.3M242.0 195.5l4.3 4.3m0 -4.3l-4.3 4.3M242.4 195.4l4.3 4.3m0 -4.3l-4.3 4.3M242.8 195.6l4.3 4.3m0 -4.3l-4.3 4.3M243.2 196.2l4.3 4.3m0 -4.3l-4.3 4.3M243.6 196.1l4.3 4.3m0 -4.3l-4.3 4.3M244.0 196.3l4.3 4.3m0 -4.3l-4.3 4.3M244.4 196.7l4.3 4.3m0 -4.3l-4.3 4.3M244.8 196.9l4.3 4.3m0 -4.3l-4.3 4.3M245.2 197.1l4.3 4.3m0 -4.3l-4.3 4.3M245.6 197.3l4.3 4.3m0 -4.3l-4.3 4.3M246.0 197.8l4.3 4.3m0 -4.3l-4.3 4.3M246.4 198.1l4.3 4.3m0 -4.3l-4.3 4.3M246.8 197.5l4.3 4.3m0 -4.3l-4.3 4.3M247.2 198.7l4.3 4.3m0 -4.3l-4.3 4.3M247.6 198.3l4.3 4.3m0 -4.3l-4.3 4.3M248.0 198.8l4.3 4.3m0 -4.3l-4.3 4.3M248.4 198.5l4.3 4.3m0 -4.3l-4.3 4.3M248.8 199.0l4.3 4.3m0 -4.3l-4.3 4.3M249.2 199.1l4.3 4.3m0 -4.3l-4.3 4.3M249.6 199.3l4.3 4.3m0 -4.3l-4.3 4.3M250.0 199.7l4.3 4.3m0 -4.3l-4.3 4.3M250.4 199.8l4.3 4.3m0 -4.3l-4.3 4.3M250.8 199.6l4.3 4.3m0 -4.3l-4.3 4.3M251.2 200.0l4.3 4.3m0 -4.3l-4.3 4.3M251.6 200.4l4.3 4.3m0 -4.3l-4.3 4.3M252.0 200.6l4.3 4.3m0 -4.3l-4.3 4.3M252.4 200.6l4.3 4.3m0 -4.3l-4.3 4.3M252.8 200.8l4.3 4.3m0 -4.3l-4.3 4.3M253.2 201.0l4.3 4.3m0 -4.3l-4.3 4.3M253.6 201.0l4.3 4.3m0 -4.3l-4.3 4.3M254.0 201.2l4.3 4.3m0 -4.3l-4.3 4.3M254.4 202.1l4.3 4.3m0 -4.3l-4.3 4.3M254.8 201.8l4.3 4.3m0 -4.3l-4.3 4.3M255.2 202.2l4.3 4.3m0 -4.3l-4.3 4.3M255.6 202.2l4.3 4.3m0 -4.3l-4.3 4.3M256.0 202.9l4.3 4.3m0 -4.3l-4.3 4.3M256.4 203.2l4.3 4.3m0 -4.3l-4.3 4.3M256.8 202.9l4.3 4.3m0 -4.3l-4.3 4.3M257.2 203.3l4.3 4.3m0 -4.3l-4.3 4.3M257.6 203.2l4.3 4.3m0 -4.3l-4.3 4.3M258.0 204.0l4.3 4.3m0 -4.3l-4.3 4.3M258.4 204.1l4.3 4.3m0 -4.3l-4.3 4.3M258.8 203.8l4.3 4.3m0 -4.3l-4.3 4.3M259.2 204.6l4.3 4.3m0 -4.3l-4.3 4.3M259.6 204.6l4.3 4.3m0 -4.3l-4.3 4.3M260.0 204.8l4.3 4.3m0 -4.3l-4.3 4.3M260.4 205.0l4.3 4.3m0 -4.3l-4.3 4.3M260.8 204.9l4.3 4.3m0 -4.3l-4.3 4.3M261.2 205.2l4.3 4.3m0 -4.3l-4.3 4.3M261.6 205.7l4.3 4.3m0 -4.3l-4.3 4.3M262.0 205.7l4.3 4.3m0 -4.3l-4.3 4.3M262.4 205.7l4.3 4.3m0 -4.3l-4.3 4.3M262.8 206.6l4.3 4.3m0 -4.3l-4.3 4.3M263.2 206.3l4.3 4.3m0 -4.3l-4.3 4.3M263.6 206.4l4.3 4.3m0 -4.3l-4.3 4.3M264.0 206.6l4.3 4.3m0 -4.3l-4.3 4.3M264.4 207.2l4.3 4.3m0 -4.3l-4.3 4.3M264.8 207.5l4.3 4.3m0 -4.3l-4.3 4.3M265.2 207.5l4.3 4.3m0 -4.3l-4.3 4.3M265.6 207.9l4.3 4.3m0 -4.3l-4.3 4.3M266.0 207.5l4.3 4.3m0 -4.3l-4.3 4.3M266.3 208.0l4.3 4.3m0 -4.3l-4.3 4.3M266.7 208.2l4.3 4.3m0 -4.3l-4.3 4.3M267.1 208.5l4.3 4.3m0 -4.3l-4.3 4.3M267.5 208.8l4.3 4.3m0 -4.3l-4.3 4.3M267.9 208.4l4.3 4.3m0 -4.3l-4.3 4.3M268.3 209.9l4.3 4.3m0 -4.3l-4.3 4.3M268.6 209.3l4.3 4.3m0 -4.3l-4.3 4.3M269.0 209.8l4.3 4.3m0 -4.3l-4.3 4.3M269.4 210.2l4.3 4.3m0 -4.3l-4.3 4.3M269.7 210.5l4.3 4.3m0 -4.3l-4.3 4.3M270.1 210.6l4.3 4.3m0 -4.3l-4.3 4.3M270.4 210.1l4.3 4.3m0 -4.3l-4.3 4.3M270.8 210.8l4.3 4.3m0 -4.3l-4.3 4.3M271.2 211.5l4.3 4.3m0 -4.3l-4.3 4.3M271.5 211.4l4.3 4.3m0 -4.3l-4.3 4.3M271.9 211.6l4.3 4.3m0 -4.3l-4.3 4.3M272.2 211.6l4.3 4.3m0 -4.3l-4.3 4.3M272.6 212.7l4.3 4.3m0 -4.3l-4.3 4.3M273.0 212.8l4.3 4.3m0 -4.3l-4.3 4.3M273.3 212.8l4.3 4.3m0 -4.3l-4.3 4.3M273.7 213.2l4.3 4.3m0 -4.3l-4.3 4.3M274.0 213.5l4.3 4.3m0 -4.3l-4.3 4.3M274.4 213.5l4.3 4.3m0 -4.3l-4.3 4.3M274.8 214.0l4.3 4.3m0 -4.3l-4.3 4.3M275.1 214.4l4.3 4.3m0 -4.3l-4.3 4.3M275.5 214.7l4.3 4.3m0 -4.3l-4.3 4.3M275.8 215.2l4.3 4.3m0 -4.3l-4.3 4.3M276.2 215.1l4.3 4.3m0 -4.3l-4.3 4.3M276.6 215.3l4.3 4.3m0 -4.3l-4.3 4.3M276.9 215.8l4.3 4.3m0 -4.3l-4.3 4.3M277.3 215.8l4.3 4.3m0 -4.3l-4.3 4.3M277.6 215.9l4.3 4.3m0 -4.3l-4.3 4.3M278.0 216.7l4.3 4.3m0 -4.3l-4.3 4.3M278.4 216.6l4.3 4.3m0 -4.3l-4.3 4.3M278.8 217.0l4.3 4.3m0 -4.3l-4.3 4.3M279.1 217.4l4.3 4.3m0 -4.3l-4.3 4.3M279.5 217.2l4.3 4.3m0 -4.3l-4.3 4.3M279.9 217.8l4.3 4.3m0 -4.3l-4.3 4.3M280.3 218.0l4.3 4.3m0 -4.3l-4.3 4.3M280.7 218.2l4.3 4.3m0 -4.3l-4.3 4.3M281.0 218.5l4.3 4.3m0 -4.3l-4.3 4.3M281.4 218.5l4.3 4.3m0 -4.3l-4.3 4.3M281.8 218.4l4.3 4.3m0 -4.3l-4.3 4.3M282.2 219.1l4.3 4.3m0 -4.3l-4.3 4.3M282.5 219.2l4.3 4.3m0 -4.3l-4.3 4.3M282.9 219.9l4.3 4.3m0 -4.3l-4.3 4.3M283.3 220.0l4.3 4.3m0 -4.3l-4.3 4.3M283.7 220.0l4.3 4.3m0 -4.3l-4.3 4.3M284.1 220.4l4.3 4.3m0 -4.3l-4.3 4.3M284.4 221.0l4.3 4.3m0 -4.3l-4.3 4.3M284.8 221.1l4.3 4.3m0 -4.3l-4.3 4.3M285.2 221.2l4.3 4.3m0 -4.3l-4.3 4.3M285.6 221.5l4.3 4.3m0 -4.3l-4.3 4.3M285.9 221.5l4.3 4.3m0 -4.3l-4.3 4.3M286.3 221.8l4.3 4.3m0 -4.3l-4.3 4.3M286.7 222.2l4.3 4.3m0 -4.3l-4.3 4.3M287.1 222.3l4.3 4.3m0 -4.3l-4.3 4.3M287.4 222.7l4.3 4.3m0 -4.3l-4.3 4.3M287.8 222.6l4.3 4.3m0 -4.3l-4.3 4.3M288.2 222.7l4.3 4.3m0 -4.3l-4.3 4.3M288.6 222.9l4.3 4.3m0 -4.3l-4.3 4.3M289.0 223.4l4.3 4.3m0 -4.3l-4.3 4.3M289.4 224.0l4.3 4.3m0 -4.3l-4.3 4.3M289.8 224.2l4.3 4.3m0 -4.3l-4.3 4.3M290.2 223.9l4.3 4.3m0 -4.3l-4.3 4.3M290.6 224.0l4.3 4.3m0 -4.3l-4.3 4.3M291.0 224.8l4.3 4.3m0 -4.3l-4.3 4.3M291.4 224.9l4.3 4.3m0 -4.3l-4.3 4.3M291.8 224.7l4.3 4.3m0 -4.3l-4.3 4.3M292.2 225.5l4.3 4.3m0 -4.3l-4.3 4.3M292.6 225.5l4.3 4.3m0 -4.3l-4.3 4.3M292.9 226.0l4.3 4.3m0 -4.3l-4.3 4.3M293.3 226.0l4.3 4.3m0 -4.3l-4.3 4.3M293.7 226.3l4.3 4.3m0 -4.3l-4.3 4.3M294.1 226.4l4.3 4.3m0 -4.3l-4.3 4.3M294.5 226.3l4.3 4.3m0 -4.3l-4.3 4.3M294.9 226.7l4.3 4.3m0 -4.3l-4.3 4.3M295.3 226.8l4.3 4.3m0 -4.3l-4.3 4.3M295.7 227.4l4.3 4.3m0 -4.3l-4.3 4.3M296.1 227.2l4.3 4.3m0 -4.3l-4.3 4.3M296.5 227.2l4.3 4.3m0 -4.3l-4.3 4.3M296.9 228.0l4.3 4.3m0 -4.3l-4.3 4.3M297.3 228.3l4.3 4.3m0 -4.3l-4.3 4.3M297.7 228.6l4.3 4.3m0 -4.3l-4.3 4.3M298.1 228.7l4.3 4.3m0 -4.3l-4.3 4.3M298.9 228.5l4.3 4.3m0 -4.3l-4.3 4.3M299.7 229.1l4.3 4.3m0 -4.3l-4.3 4.3M300.5 229.5l4.3 4.3m0 -4.3l-4.3 4.3M301.3 230.1l4.3 4.3m0 -4.3l-4.3 4.3M302.1 230.0l4.3 4.3m0 -4.3l-4.3 4.3M302.9 230.9l4.3 4.3m0 -4.3l-4.3 4.3M303.7 231.4l4.3 4.3m0 -4.3l-4.3 4.3M304.5 231.5l4.3 4.3m0 -4.3l-4.3 4.3M305.3 232.1l4.3 4.3m0 -4.3l-4.3 4.3M306.0 232.9l4.3 4.3m0 -4.3l-4.3 4.3M306.5 233.4l4.3 4.3m0 -4.3l-4.3 4.3M307.0 234.4l4.3 4.3m0 -4.3l-4.3 4.3M307.5 235.1l4.3 4.3m0 -4.3l-4.3 4.3M308.0 235.7l4.3 4.3m0 -4.3l-4.3 4.3M308.5 236.4l4.3 4.3m0 -4.3l-4.3 4.3M309.0 237.0l4.3 4.3m0 -4.3l-4.3 4.3M309.6 238.1l4.3 4.3m0 -4.3l-4.3 4.3M310.2 238.4l4.3 4.3m0 -4.3l-4.3 4.3M310.7 239.0l4.3 4.3m0 -4.3l-4.3 4.3M311.3 240.1l4.3 4.3m0 -4.3l-4.3 4.3M311.9 240.4l4.3 4.3m0 -4.3l-4.3 4.3M312.4 241.4l4.3 4.3m0 -4.3l-4.3 4.3M313.0 242.2l4.3 4.3m0 -4.3l-4.3 4.3M313.7 242.5l4.3 4.3m0 -4.3l-4.3 4.3M314.4 243.1l4.3 4.3m0 -4.3l-4.3 4.3M315.1 243.8l4.3 4.3m0 -4.3l-4.3 4.3M315.9 244.4l4.3 4.3m0 -4.3l-4.3 4.3M316.6 244.3l4.3 4.3m0 -4.3l-4.3 4.3M317.3 245.0l4.3 4.3m0 -4.3l-4.3 4.3M318.0 246.1l4.3 4.3m0 -4.3l-4.3 4.3M318.7 246.5l4.3 4.3m0 -4.3l-4.3 4.3M320.9 248.3l4.3 4.3m0 -4.3l-4.3 4.3M322.9 249.8l4.3 4.3m0 -4.3l-4.3 4.3M325.4 251.7l4.3 4.3m0 -4.3l-4.3 4.3M327.9 253.3l4.3 4.3m0 -4.3l-4.3 4.3M330.4 255.2l4.3 4.3m0 -4.3l-4.3 4.3M332.9 256.9l4.3 4.3m0 -4.3l-4.3 4.3M335.9 259.9l4.3 4.3m0 -4.3l-4.3 4.3M338.9 262.9l4.3 4.3m0 -4.3l-4.3 4.3M341.9 266.4l4.3 4.3m0 -4.3l-4.3 4.3M343.9 269.9l4.3 4.3m0 -4.3l-4.3 4.3M345.9 274.9l4.3 4.3m0 -4.3l-4.3 4.3M349.4 280.9l4.3 4.3m0 -4.3l-4.3 4.3M350.4 287.4l4.3 4.3m0 -4.3l-4.3 4.3" fill="none" stroke="#77AC30" stroke-width="0.8" opacity="1"/>
<path d="M59.4 173.4l4.3 4.3m0 -4.3l-4.3 4.3M97.8 173.3l4.3 4.3m0 -4.3l-4.3 4.3M137.8 173.8l4.3 4.3m0 -4.3l-4.3 4.3M182.8 173.8l4.3 4.3m0 -4.3l-4.3 4.3M265.9 173.8l4.3 4.3m0 -4.3l-4.3 4.3M273.9 174.3l4.3 4.3m0 -4.3l-4.3 4.3M349.9 174.8l4.3 4.3m0 -4.3l-4.3 4.3M352.2 176.2l4.3 4.3m0 -4.3l-4.3 4.3M357.2 178.5l4.3 4.3m0 -4.3l-4.3 4.3M393.5 182.7l4.3 4.3m0 -4.3l-4.3 4.3M404.4 186.0l4.3 4.3m0 -4.3l-4.3 4.3M407.2 188.8l4.3 4.3m0 -4.3l-4.3 4.3M418.2 191.8l4.3 4.3m0 -4.3l-4.3 4.3M418.7 196.0l4.3 4.3m0 -4.3l-4.3 4.3M420.6 202.7l4.3 4.3m0 -4.3l-4.3 4.3M427.2 210.3l4.3 4.3m0 -4.3l-4.3 4.3M473.8 224.5l4.3 4.3m0 -4.3l-4.3 4.3" fill="none" stroke="#4DBEEE" stroke-width="0.8" opacity="1"/>
<path d="M76.4 172.8l4.3 4.3m0 -4.3l-4.3 4.3M117.3 173.2l4.3 4.3m0 -4.3l-4.3 4.3M157.8 173.3l4.3 4.3m0 -4.3l-4.3 4.3M202.8 173.8l4.3 4.3m0 -4.3l-4.3 4.3M237.8 174.8l4.3 4.3m0 -4.3l-4.3 4.3M262.9 175.3l4.3 4.3m0 -4.3l-4.3 4.3M281.6 175.8l4.3 4.3m0 -4.3l-4.3 4.3M289.9 176.4l4.3 4.3m0 -4.3l-4.3 4.3M303.7 177.3l4.3 4.3m0 -4.3l-4.3 4.3M306.8 178.3l4.3 4.3m0 -4.3l-4.3 4.3M310.6 179.2l4.3 4.3m0 -4.3l-4.3 4.3M328.2 180.8l4.3 4.3m0 -4.3l-4.3 4.3M339.2 182.3l4.3 4.3m0 -4.3l-4.3 4.3M346.1 183.2l4.3 4.3m0 -4.3l-4.3 4.3M349.9 185.4l4.3 4.3m0 -4.3l-4.3 4.3M351.2 186.4l4.3 4.3m0 -4.3l-4.3 4.3M358.4 188.0l4.3 4.3m0 -4.3l-4.3 4.3M364.5 189.9l4.3 4.3m0 -4.3l-4.3 4.3M367.1 191.5l4.3 4.3m0 -4.3l-4.3 4.3M377.1 193.2l4.3 4.3m0 -4.3l-4.3 4.3M387.2 195.0l4.3 4.3m0 -4.3l-4.3 4.3M389.1 196.9l4.3 4.3m0 -4.3l-4.3 4.3M399.6 199.4l4.3 4.3m0 -4.3l-4.3 4.3M404.4 202.7l4.3 4.3m0 -4.3l-4.3 4.3M412.6 204.7l4.3 4.3m0 -4.3l-4.3 4.3M413.9 207.4l4.3 4.3m0 -4.3l-4.3 4.3M415.8 210.3l4.3 4.3m0 -4.3l-4.3 4.3M416.8 213.2l4.3 4.3m0 -4.3l-4.3 4.3M419.7 219.3l4.3 4.3m0 -4.3l-4.3 4.3M426.2 227.5l4.3 4.3m0 -4.3l-4.3 4.3M450.4 240.5l4.3 4.3m0 -4.3l-4.3 4.3" fill="none" stroke="#A2142F" stroke-width="0.8" opacity="1"/>
<path d="M59.9 173.7l4.3 4.3m0 -4.3l-4.3 4.3M70.3 173.8l4.3 4.3m0 -4.3l-4.3 4.3M71.8 173.8l4.3 4.3m0 -4.3l-4.3 4.3M107.0 173.8l4.3 4.3m0 -4.3l-4.3 4.3M146.2 174.3l4.3 4.3m0 -4.3l-4.3 4.3M148.8 174.3l4.3 4.3m0 -4.3l-4.3 4.3M152.2 174.8l4.3 4.3m0 -4.3l-4.3 4.3M164.2 174.8l4.3 4.3m0 -4.3l-4.3 4.3M197.8 172.8l4.3 4.3m0 -4.3l-4.3 4.3M203.8 173.2l4.3 4.3m0 -4.3l-4.3 4.3M209.8 173.7l4.3 4.3m0 -4.3l-4.3 4.3M215.8 173.8l4.3 4.3m0 -4.3l-4.3 4.3M221.8 174.3l4.3 4.3m0 -4.3l-4.3 4.3M227.8 174.5l4.3 4.3m0 -4.3l-4.3 4.3M233.8 174.9l4.3 4.3m0 -4.3l-4.3 4.3M239.8 175.0l4.3 4.3m0 -4.3l-4.3 4.3M245.8 175.8l4.3 4.3m0 -4.3l-4.3 4.3M251.8 176.4l4.3 4.3m0 -4.3l-4.3 4.3M257.8 176.3l4.3 4.3m0 -4.3l-4.3 4.3M263.7 177.6l4.3 4.3m0 -4.3l-4.3 4.3M269.6 178.4l4.3 4.3m0 -4.3l-4.3 4.3M275.6 179.2l4.3 4.3m0 -4.3l-4.3 4.3M276.6 179.3l4.3 4.3m0 -4.3l-4.3 4.3M277.7 179.2l4.3 4.3m0 -4.3l-4.3 4.3M278.8 179.5l4.3 4.3m0 -4.3l-4.3 4.3M279.9 180.0l4.3 4.3m0 -4.3l-4.3 4.3M281.0 180.2l4.3 4.3m0 -4.3l-4.3 4.3M282.1 180.5l4.3 4.3m0 -4.3l-4.3 4.3M283.1 180.6l4.3 4.3m0 -4.3l-4.3 4.3M284.2 180.8l4.3 4.3m0 -4.3l-4.3 4.3M285.3 180.8l4.3 4.3m0 -4.3l-4.3 4.3M286.4 180.8l4.3 4.3m0 -4.3l-4.3 4.3M287.5 181.3l4.3 4.3m0 -4.3l-4.3 4.3M288.5 181.5l4.3 4.3m0 -4.3l-4.3 4.3M289.6 181.6l4.3 4.3m0 -4.3l-4.3 4.3M290.7 181.6l4.3 4.3m0 -4.3l-4.3 4.3M291.8 181.9l4.3 4.3m0 -4.3l-4.3 4.3M292.9 182.0l4.3 4.3m0 -4.3l-4.3 4.3M294.0 182.5l4.3 4.3m0 -4.3l-4.3 4.3M295.0 182.4l4.3 4.3m0 -4.3l-4.3 4.3M296.1 182.8l4.3 4.3m0 -4.3l-4.3 4.3M297.2 183.1l4.3 4.3m0 -4.3l-4.3 4.3M298.3 183.3l4.3 4.3m0 -4.3l-4.3 4.3M299.3 183.9l4.3 4.3m0 -4.3l-4.3 4.3M300.3 183.9l4.3 4.3m0 -4.3l-4.3 4.3M301.4 184.0l4.3 4.3m0 -4.3l-4.3 4.3M302.4 185.0l4.3 4.3m0 -4.3l-4.3 4.3M303.4 185.4l4.3 4.3m0 -4.3l-4.3 4.3M304.5 185.8l4.3 4.3m0 -4.3l-4.3 4.3M305.5 186.0l4.3 4.3m0 -4.3l-4.3 4.3M306.5 186.4l4.3 4.3m0 -4.3l-4.3 4.3M307.6 186.7l4.3 4.3m0 -4.3l-4.3 4.3M308.6 186.8l4.3 4.3m0 -4.3l-4.3 4.3M309.6 187.4l4.3 4.3m0 -4.3l-4.3 4.3M310.7 187.9l4.3 4.3m0 -4.3l-4.3 4.3M311.7 188.1l4.3 4.3m0 -4.3l-4.3 4.3M312.7 188.9l4.3 4.3m0 -4.3l-4.3 4.3M313.8 188.7l4.3 4.3m0 -4.3l-4.3 4.3M314.8 189.3l4.3 4.3m0 -4.3l-4.3 4.3M315.8 189.9l4.3 4.3m0 -4.3l-4.3 4.3M316.9 190.0l4.3 4.3m0 -4.3l-4.3 4.3M317.9 190.3l4.3 4.3m0 -4.3l-4.3 4.3M318.9 190.7l4.3 4.3m0 -4.3l-4.3 4.3M319.9 191.2l4.3 4.3m0 -4.3l-4.3 4.3M320.9 192.1l4.3 4.3m0 -4.3l-4.3 4.3M321.9 192.3l4.3 4.3m0 -4.3l-4.3 4.3M322.9 192.8l4.3 4.3m0 -4.3l-4.3 4.3M323.9 193.0l4.3 4.3m0 -4.3l-4.3 4.3M325.0 193.7l4.3 4.3m0 -4.3l-4.3 4.3M326.0 194.0l4.3 4.3m0 -4.3l-4.3 4.3M327.0 194.3l4.3 4.3m0 -4.3l-4.3 4.3M328.0 194.8l4.3 4.3m0 -4.3l-4.3 4.3M328.8 195.3l4.3 4.3m0 -4.3l-4.3 4.3M329.6 195.8l4.3 4.3m0 -4.3l-4.3 4.3M330.5 195.9l4.3 4.3m0 -4.3l-4.3 4.3M331.3 196.4l4.3 4.3m0 -4.3l-4.3 4.3M332.1 197.0l4.3 4.3m0 -4.3l-4.3 4.3M332.9 196.9l4.3 4.3m0 -4.3l-4.3 4.3M333.8 197.2l4.3 4.3m0 -4.3l-4.3 4.3M334.5 198.1l4.3 4.3m0 -4.3l-4.3 4.3M335.1 198.6l4.3 4.3m0 -4.3l-4.3 4.3M335.8 199.1l4.3 4.3m0 -4.3l-4.3 4.3M336.5 199.8l4.3 4.3m0 -4.3l-4.3 4.3M337.1 200.3l4.3 4.3m0 -4.3l-4.3 4.3M337.8 201.1l4.3 4.3m0 -4.3l-4.3 4.3M338.5 201.5l4.3 4.3m0 -4.3l-4.3 4.3M339.1 202.3l4.3 4.3m0 -4.3l-4.3 4.3M339.8 202.6l4.3 4.3m0 -4.3l-4.3 4.3M340.4 203.2l4.3 4.3m0 -4.3l-4.3 4.3M341.1 204.0l4.3 4.3m0 -4.3l-4.3 4.3M341.8 204.5l4.3 4.3m0 -4.3l-4.3 4.3M342.4 205.3l4.3 4.3m0 -4.3l-4.3 4.3M343.1 205.8l4.3 4.3m0 -4.3l-4.3 4.3M343.8 206.3l4.3 4.3m0 -4.3l-4.3 4.3M344.4 207.1l4.3 4.3m0 -4.3l-4.3 4.3M345.1 207.6l4.3 4.3m0 -4.3l-4.3 4.3M345.7 208.0l4.3 4.3m0 -4.3l-4.3 4.3M346.4 208.7l4.3 4.3m0 -4.3l-4.3 4.3M347.1 209.3l4.3 4.3m0 -4.3l-4.3 4.3M347.7 210.0l4.3 4.3m0 -4.3l-4.3 4.3M348.4 210.7l4.3 4.3m0 -4.3l-4.3 4.3M349.1 211.5l4.3 4.3m0 -4.3l-4.3 4.3M349.7 212.0l4.3 4.3m0 -4.3l-4.3 4.3M350.4 212.9l4.3 4.3m0 -4.3l-4.3 4.3M351.0 213.4l4.3 4.3m0 -4.3l-4.3 4.3M351.7 213.7l4.3 4.3m0 -4.3l-4.3 4.3M352.4 214.7l4.3 4.3m0 -4.3l-4.3 4.3M353.0 215.2l4.3 4.3m0 -4.3l-4.3 4.3M353.6 215.5l4.3 4.3m0 -4.3l-4.3 4.3M354.3 216.3l4.3 4.3m0 -4.3l-4.3 4.3M354.9 217.1l4.3 4.3m0 -4.3l-4.3 4.3M355.6 217.6l4.3 4.3m0 -4.3l-4.3 4.3M356.2 218.3l4.3 4.3m0 -4.3l-4.3 4.3M356.8 218.9l4.3 4.3m0 -4.3l-4.3 4.3M357.5 219.6l4.3 4.3m0 -4.3l-4.3 4.3M358.1 220.0l4.3 4.3m0 -4.3l-4.3 4.3M358.8 220.8l4.3 4.3m0 -4.3l-4.3 4.3M359.4 221.3l4.3 4.3m0 -4.3l-4.3 4.3M360.0 222.1l4.3 4.3m0 -4.3l-4.3 4.3M360.6 222.3l4.3 4.3m0 -4.3l-4.3 4.3M361.2 223.4l4.3 4.3m0 -4.3l-4.3 4.3M361.8 224.3l4.3 4.3m0 -4.3l-4.3 4.3M362.3 224.8l4.3 4.3m0 -4.3l-4.3 4.3M362.9 225.4l4.3 4.3m0 -4.3l-4.3 4.3M363.5 226.2l4.3 4.3m0 -4.3l-4.3 4.3M364.1 226.6l4.3 4.3m0 -4.3l-4.3 4.3M364.6 227.4l4.3 4.3m0 -4.3l-4.3 4.3M365.1 228.2l4.3 4.3m0 -4.3l-4.3 4.3M365.6 229.0l4.3 4.3m0 -4.3l-4.3 4.3M366.1 229.9l4.3 4.3m0 -4.3l-4.3 4.3M366.6 230.3l4.3 4.3m0 -4.3l-4.3 4.3M367.1 231.4l4.3 4.3m0 -4.3l-4.3 4.3M367.6 231.7l4.3 4.3m0 -4.3l-4.3 4.3M368.2 232.6l4.3 4.3m0 -4.3l-4.3 4.3M368.7 233.5l4.3 4.3m0 -4.3l-4.3 4.3M371.4 236.0l4.3 4.3m0 -4.3l-4.3 4.3M373.7 238.2l4.3 4.3m0 -4.3l-4.3 4.3M376.4 241.7l4.3 4.3m0 -4.3l-4.3 4.3M379.0 244.8l4.3 4.3m0 -4.3l-4.3 4.3M384.4 250.8l4.3 4.3m0 -4.3l-4.3 4.3M388.4 259.2l4.3 4.3m0 -4.3l-4.3 4.3M392.2 272.9l4.3 4.3m0 -4.3l-4.3 4.3" fill="none" stroke="#0072BD" stroke-width="0.8" opacity="1"/>
<path d="M61.0 172.7l4.3 4.3m0 -4.3l-4.3 4.3M92.3 172.7l4.3 4.3m0 -4.3l-4.3 4.3M93.8 172.8l4.3 4.3m0 -4.3l-4.3 4.3M130.4 172.4l4.3 4.3m0 -4.3l-4.3 4.3M163.2 171.8l4.3 4.3m0 -4.3l-4.3 4.3M176.2 172.8l4.3 4.3m0 -4.3l-4.3 4.3M189.2 171.4l4.3 4.3m0 -4.3l-4.3 4.3M198.8 173.8l4.3 4.3m0 -4.3l-4.3 4.3M200.5 173.5l4.3 4.3m0 -4.3l-4.3 4.3M202.2 173.3l4.3 4.3m0 -4.3l-4.3 4.3M203.9 173.9l4.3 4.3m0 -4.3l-4.3 4.3M205.6 173.9l4.3 4.3m0 -4.3l-4.3 4.3M207.3 173.8l4.3 4.3m0 -4.3l-4.3 4.3M209.0 173.9l4.3 4.3m0 -4.3l-4.3 4.3M210.7 174.0l4.3 4.3m0 -4.3l-4.3 4.3M212.4 174.3l4.3 4.3m0 -4.3l-4.3 4.3M214.1 174.5l4.3 4.3m0 -4.3l-4.3 4.3M215.8 174.1l4.3 4.3m0 -4.3l-4.3 4.3M217.5 175.0l4.3 4.3m0 -4.3l-4.3 4.3M219.2 174.6l4.3 4.3m0 -4.3l-4.3 4.3M220.9 174.6l4.3 4.3m0 -4.3l-4.3 4.3M222.6 174.9l4.3 4.3m0 -4.3l-4.3 4.3M224.3 174.9l4.3 4.3m0 -4.3l-4.3 4.3M226.0 175.5l4.3 4.3m0 -4.3l-4.3 4.3M227.7 175.3l4.3 4.3m0 -4.3l-4.3 4.3M229.4 175.2l4.3 4.3m0 -4.3l-4.3 4.3M231.1 175.4l4.3 4.3m0 -4.3l-4.3 4.3M232.8 175.5l4.3 4.3m0 -4.3l-4.3 4.3M234.5 175.7l4.3 4.3m0 -4.3l-4.3 4.3M236.2 176.2l4.3 4.3m0 -4.3l-4.3 4.3M237.8 176.1l4.3 4.3m0 -4.3l-4.3 4.3M239.5 176.7l4.3 4.3m0 -4.3l-4.3 4.3M241.2 176.6l4.3 4.3m0 -4.3l-4.3 4.3M242.9 176.8l4.3 4.3m0 -4.3l-4.3 4.3M244.6 177.2l4.3 4.3m0 -4.3l-4.3 4.3M246.3 176.8l4.3 4.3m0 -4.3l-4.3 4.3M248.0 177.2l4.3 4.3m0 -4.3l-4.3 4.3M249.7 177.7l4.3 4.3m0 -4.3l-4.3 4.3M251.4 177.7l4.3 4.3m0 -4.3l-4.3 4.3M253.1 177.9l4.3 4.3m0 -4.3l-4.3 4.3M254.7 178.1l4.3 4.3m0 -4.3l-4.3 4.3M256.4 178.1l4.3 4.3m0 -4.3l-4.3 4.3M258.1 178.4l4.3 4.3m0 -4.3l-4.3 4.3M259.8 178.3l4.3 4.3m0 -4.3l-4.3 4.3M261.5 178.3l4.3 4.3m0 -4.3l-4.3 4.3M263.2 179.2l4.3 4.3m0 -4.3l-4.3 4.3M264.9 178.9l4.3 4.3m0 -4.3l-4.3 4.3M266.6 179.2l4.3 4.3m0 -4.3l-4.3 4.3M268.3 179.9l4.3 4.3m0 -4.3l-4.3 4.3M269.9 180.0l4.3 4.3m0 -4.3l-4.3 4.3M271.6 179.9l4.3 4.3m0 -4.3l-4.3 4.3M273.3 180.1l4.3 4.3m0 -4.3l-4.3 4.3M275.0 180.5l4.3 4.3m0 -4.3l-4.3 4.3M276.7 180.5l4.3 4.3m0 -4.3l-4.3 4.3M278.4 181.1l4.3 4.3m0 -4.3l-4.3 4.3M280.0 181.3l4.3 4.3m0 -4.3l-4.3 4.3M281.7 181.6l4.3 4.3m0 -4.3l-4.3 4.3M283.4 182.1l4.3 4.3m0 -4.3l-4.3 4.3M285.0 182.4l4.3 4.3m0 -4.3l-4.3 4.3M286.7 183.0l4.3 4.3m0 -4.3l-4.3 4.3M288.4 183.2l4.3 4.3m0 -4.3l-4.3 4.3M290.0 182.9l4.3 4.3m0 -4.3l-4.3 4.3M291.7 183.7l4.3 4.3m0 -4.3l-4.3 4.3M293.4 183.7l4.3 4.3m0 -4.3l-4.3 4.3M295.0 183.9l4.3 4.3m0 -4.3l-4.3 4.3M296.7 184.7l4.3 4.3m0 -4.3l-4.3 4.3M298.4 184.8l4.3 4.3m0 -4.3l-4.3 4.3M299.3 185.2l4.3 4.3m0 -4.3l-4.3 4.3M300.2 185.9l4.3 4.3m0 -4.3l-4.3 4.3M301.2 185.9l4.3 4.3m0 -4.3l-4.3 4.3M302.1 186.2l4.3 4.3m0 -4.3l-4.3 4.3M303.0 186.8l4.3 4.3m0 -4.3l-4.3 4.3M304.0 187.3l4.3 4.3m0 -4.3l-4.3 4.3M304.9 187.5l4.3 4.3m0 -4.3l-4.3 4.3M305.9 187.4l4.3 4.3m0 -4.3l-4.3 4.3M306.8 188.0l4.3 4.3m0 -4.3l-4.3 4.3M307.7 188.4l4.3 4.3m0 -4.3l-4.3 4.3M308.7 189.2l4.3 4.3m0 -4.3l-4.3 4.3M309.6 189.4l4.3 4.3m0 -4.3l-4.3 4.3M310.5 189.7l4.3 4.3m0 -4.3l-4.3 4.3M311.5 190.1l4.3 4.3m0 -4.3l-4.3 4.3M312.4 190.2l4.3 4.3m0 -4.3l-4.3 4.3M313.3 190.7l4.3 4.3m0 -4.3l-4.3 4.3M314.3 191.0l4.3 4.3m0 -4.3l-4.3 4.3M315.2 191.1l4.3 4.3m0 -4.3l-4.3 4.3M316.2 191.6l4.3 4.3m0 -4.3l-4.3 4.3M317.1 192.1l4.3 4.3m0 -4.3l-4.3 4.3M318.0 192.1l4.3 4.3m0 -4.3l-4.3 4.3M318.9 193.0l4.3 4.3m0 -4.3l-4.3 4.3M319.8 193.4l4.3 4.3m0 -4.3l-4.3 4.3M320.7 193.9l4.3 4.3m0 -4.3l-4.3 4.3M321.6 194.0l4.3 4.3m0 -4.3l-4.3 4.3M322.5 194.6l4.3 4.3m0 -4.3l-4.3 4.3M323.3 195.5l4.3 4.3m0 -4.3l-4.3 4.3M324.0 196.0l4.3 4.3m0 -4.3l-4.3 4.3M324.8 196.3l4.3 4.3m0 -4.3l-4.3 4.3M325.6 197.2l4.3 4.3m0 -4.3l-4.3 4.3M326.4 198.0l4.3 4.3m0 -4.3l-4.3 4.3M327.1 198.4l4.3 4.3m0 -4.3l-4.3 4.3M327.9 199.1l4.3 4.3m0 -4.3l-4.3 4.3M328.4 199.9l4.3 4.3m0 -4.3l-4.3 4.3M328.9 199.7l4.3 4.3m0 -4.3l-4.3 4.3M329.3 200.1l4.3 4.3m0 -4.3l-4.3 4.3M329.8 200.2l4.3 4.3m0 -4.3l-4.3 4.3M330.3 200.7l4.3 4.3m0 -4.3l-4.3 4.3M330.8 201.5l4.3 4.3m0 -4.3l-4.3 4.3M331.3 201.5l4.3 4.3m0 -4.3l-4.3 4.3M331.7 201.6l4.3 4.3m0 -4.3l-4.3 4.3M332.2 202.1l4.3 4.3m0 -4.3l-4.3 4.3M332.7 202.6l4.3 4.3m0 -4.3l-4.3 4.3M333.2 203.1l4.3 4.3m0 -4.3l-4.3 4.3M333.7 203.2l4.3 4.3m0 -4.3l-4.3 4.3M334.1 203.9l4.3 4.3m0 -4.3l-4.3 4.3M334.5 204.1l4.3 4.3m0 -4.3l-4.3 4.3M334.8 204.8l4.3 4.3m0 -4.3l-4.3 4.3M335.2 205.3l4.3 4.3m0 -4.3l-4.3 4.3M335.5 205.8l4.3 4.3m0 -4.3l-4.3 4.3M335.9 206.0l4.3 4.3m0 -4.3l-4.3 4.3M336.3 206.6l4.3 4.3m0 -4.3l-4.3 4.3M336.6 207.2l4.3 4.3m0 -4.3l-4.3 4.3M337.0 207.3l4.3 4.3m0 -4.3l-4.3 4.3M337.3 208.1l4.3 4.3m0 -4.3l-4.3 4.3M337.7 208.6l4.3 4.3m0 -4.3l-4.3 4.3M338.1 209.2l4.3 4.3m0 -4.3l-4.3 4.3M338.4 209.5l4.3 4.3m0 -4.3l-4.3 4.3M338.8 209.9l4.3 4.3m0 -4.3l-4.3 4.3M339.1 210.5l4.3 4.3m0 -4.3l-4.3 4.3M339.4 210.8l4.3 4.3m0 -4.3l-4.3 4.3M339.8 211.4l4.3 4.3m0 -4.3l-4.3 4.3M340.1 212.1l4.3 4.3m0 -4.3l-4.3 4.3M340.4 212.5l4.3 4.3m0 -4.3l-4.3 4.3M340.8 212.8l4.3 4.3m0 -4.3l-4.3 4.3M341.1 213.4l4.3 4.3m0 -4.3l-4.3 4.3M341.4 213.5l4.3 4.3m0 -4.3l-4.3 4.3M341.8 214.6l4.3 4.3m0 -4.3l-4.3 4.3M342.1 214.9l4.3 4.3m0 -4.3l-4.3 4.3M342.4 215.5l4.3 4.3m0 -4.3l-4.3 4.3M342.8 215.7l4.3 4.3m0 -4.3l-4.3 4.3M343.1 216.5l4.3 4.3m0 -4.3l-4.3 4.3M343.4 217.1l4.3 4.3m0 -4.3l-4.3 4.3M343.7 217.7l4.3 4.3m0 -4.3l-4.3 4.3M344.0 217.7l4.3 4.3m0 -4.3l-4.3 4.3M344.3 218.7l4.3 4.3m0 -4.3l-4.3 4.3M344.6 219.0l4.3 4.3m0 -4.3l-4.3 4.3M344.9 219.4l4.3 4.3m0 -4.3l-4.3 4.3M345.2 220.2l4.3 4.3m0 -4.3l-4.3 4.3M345.4 220.6l4.3 4.3m0 -4.3l-4.3 4.3M345.7 221.1l4.3 4.3m0 -4.3l-4.3 4.3M346.0 221.6l4.3 4.3m0 -4.3l-4.3 4.3M346.3 222.3l4.3 4.3m0 -4.3l-4.3 4.3M346.6 222.8l4.3 4.3m0 -4.3l-4.3 4.3M346.9 223.2l4.3 4.3m0 -4.3l-4.3 4.3M347.2 223.6l4.3 4.3m0 -4.3l-4.3 4.3M347.6 224.2l4.3 4.3m0 -4.3l-4.3 4.3M347.9 224.9l4.3 4.3m0 -4.3l-4.3 4.3M348.2 225.6l4.3 4.3m0 -4.3l-4.3 4.3M351.9 226.8l4.3 4.3m0 -4.3l-4.3 4.3M355.4 227.9l4.3 4.3m0 -4.3l-4.3 4.3M357.7 230.8l4.3 4.3m0 -4.3l-4.3 4.3M360.0 233.3l4.3 4.3m0 -4.3l-4.3 4.3M361.8 236.3l4.3 4.3m0 -4.3l-4.3 4.3M364.5 239.4l4.3 4.3m0 -4.3l-4.3 4.3M366.8 243.2l4.3 4.3m0 -4.3l-4.3 4.3M369.1 249.3l4.3 4.3m0 -4.3l-4.3 4.3M384.8 257.7l4.3 4.3m0 -4.3l-4.3 4.3M385.1 272.2l4.3 4.3m0 -4.3l-4.3 4.3" fill="none" stroke="#D95319" stroke-width="0.8" opacity="1"/>
<path d="M303.2 125.8l4.3 4.3m0 -4.3l-4.3 4.3M305.7 126.8l4.3 4.3m0 -4.3l-4.3 4.3M307.2 127.2l4.3 4.3m0 -4.3l-4.3 4.3M307.6 127.7l4.3 4.3m0 -4.3l-4.3 4.3M308.1 127.7l4.3 4.3m0 -4.3l-4.3 4.3M308.5 127.7l4.3 4.3m0 -4.3l-4.3 4.3M309.0 128.2l4.3 4.3m0 -4.3l-4.3 4.3M309.4 128.1l4.3 4.3m0 -4.3l-4.3 4.3M309.9 128.5l4.3 4.3m0 -4.3l-4.3 4.3M310.3 128.9l4.3 4.3m0 -4.3l-4.3 4.3M310.8 128.9l4.3 4.3m0 -4.3l-4.3 4.3M311.2 129.1l4.3 4.3m0 -4.3l-4.3 4.3M311.7 129.8l4.3 4.3m0 -4.3l-4.3 4.3M312.1 129.7l4.3 4.3m0 -4.3l-4.3 4.3M312.6 129.8l4.3 4.3m0 -4.3l-4.3 4.3M313.0 130.1l4.3 4.3m0 -4.3l-4.3 4.3M313.5 130.1l4.3 4.3m0 -4.3l-4.3 4.3M314.0 130.3l4.3 4.3m0 -4.3l-4.3 4.3M316.2 130.8l4.3 4.3m0 -4.3l-4.3 4.3M318.2 131.0l4.3 4.3m0 -4.3l-4.3 4.3M320.6 131.5l4.3 4.3m0 -4.3l-4.3 4.3M329.0 131.5l4.3 4.3m0 -4.3l-4.3 4.3M331.7 131.5l4.3 4.3m0 -4.3l-4.3 4.3M348.6 131.9l4.3 4.3m0 -4.3l-4.3 4.3M351.6 132.2l4.3 4.3m0 -4.3l-4.3 4.3M354.7 132.2l4.3 4.3m0 -4.3l-4.3 4.3M357.7 132.5l4.3 4.3m0 -4.3l-4.3 4.3M359.4 133.2l4.3 4.3m0 -4.3l-4.3 4.3M360.8 133.8l4.3 4.3m0 -4.3l-4.3 4.3M361.5 134.7l4.3 4.3m0 -4.3l-4.3 4.3M362.2 135.3l4.3 4.3m0 -4.3l-4.3 4.3M363.4 135.4l4.3 4.3m0 -4.3l-4.3 4.3M364.6 135.7l4.3 4.3m0 -4.3l-4.3 4.3M367.7 136.8l4.3 4.3m0 -4.3l-4.3 4.3M370.0 137.3l4.3 4.3m0 -4.3l-4.3 4.3M371.8 139.2l4.3 4.3m0 -4.3l-4.3 4.3M372.2 140.4l4.3 4.3m0 -4.3l-4.3 4.3M372.2 140.4l4.3 4.3m0 -4.3l-4.3 4.3M372.3 141.2l4.3 4.3m0 -4.3l-4.3 4.3M372.4 141.2l4.3 4.3m0 -4.3l-4.3 4.3M372.5 141.6l4.3 4.3m0 -4.3l-4.3 4.3M372.6 142.1l4.3 4.3m0 -4.3l-4.3 4.3M372.7 142.4l4.3 4.3m0 -4.3l-4.3 4.3M372.8 142.6l4.3 4.3m0 -4.3l-4.3 4.3M372.9 143.1l4.3 4.3m0 -4.3l-4.3 4.3M373.0 143.2l4.3 4.3m0 -4.3l-4.3 4.3M373.1 143.6l4.3 4.3m0 -4.3l-4.3 4.3M373.2 143.9l4.3 4.3m0 -4.3l-4.3 4.3M373.3 144.3l4.3 4.3m0 -4.3l-4.3 4.3M373.4 144.8l4.3 4.3m0 -4.3l-4.3 4.3M373.5 145.1l4.3 4.3m0 -4.3l-4.3 4.3M373.6 145.4l4.3 4.3m0 -4.3l-4.3 4.3M373.7 145.9l4.3 4.3m0 -4.3l-4.3 4.3M373.8 146.1l4.3 4.3m0 -4.3l-4.3 4.3M373.8 146.3l4.3 4.3m0 -4.3l-4.3 4.3M373.8 146.7l4.3 4.3m0 -4.3l-4.3 4.3M373.9 147.3l4.3 4.3m0 -4.3l-4.3 4.3M373.9 147.5l4.3 4.3m0 -4.3l-4.3 4.3M374.0 147.9l4.3 4.3m0 -4.3l-4.3 4.3M374.0 148.2l4.3 4.3m0 -4.3l-4.3 4.3M374.0 148.5l4.3 4.3m0 -4.3l-4.3 4.3M374.1 148.9l4.3 4.3m0 -4.3l-4.3 4.3M374.1 149.2l4.3 4.3m0 -4.3l-4.3 4.3M374.2 149.5l4.3 4.3m0 -4.3l-4.3 4.3M374.2 149.8l4.3 4.3m0 -4.3l-4.3 4.3M374.2 150.1l4.3 4.3m0 -4.3l-4.3 4.3M374.3 150.6l4.3 4.3m0 -4.3l-4.3 4.3M374.3 151.0l4.3 4.3m0 -4.3l-4.3 4.3M374.4 151.4l4.3 4.3m0 -4.3l-4.3 4.3M374.4 151.6l4.3 4.3m0 -4.3l-4.3 4.3M374.4 151.9l4.3 4.3m0 -4.3l-4.3 4.3M374.5 152.4l4.3 4.3m0 -4.3l-4.3 4.3M374.5 152.8l4.3 4.3m0 -4.3l-4.3 4.3M374.5 152.9l4.3 4.3m0 -4.3l-4.3 4.3M374.6 153.5l4.3 4.3m0 -4.3l-4.3 4.3M374.6 153.8l4.3 4.3m0 -4.3l-4.3 4.3M374.6 154.3l4.3 4.3m0 -4.3l-4.3 4.3M374.6 154.3l4.3 4.3m0 -4.3l-4.3 4.3M374.7 154.6l4.3 4.3m0 -4.3l-4.3 4.3M374.7 155.2l4.3 4.3m0 -4.3l-4.3 4.3M374.7 155.3l4.3 4.3m0 -4.3l-4.3 4.3M374.8 155.7l4.3 4.3m0 -4.3l-4.3 4.3M374.8 156.0l4.3 4.3m0 -4.3l-4.3 4.3M374.8 156.4l4.3 4.3m0 -4.3l-4.3 4.3M374.8 156.6l4.3 4.3m0 -4.3l-4.3 4.3M374.9 157.2l4.3 4.3m0 -4.3l-4.3 4.3M374.9 157.7l4.3 4.3m0 -4.3l-4.3 4.3M374.9 158.0l4.3 4.3m0 -4.3l-4.3 4.3M375.0 158.3l4.3 4.3m0 -4.3l-4.3 4.3M375.0 158.6l4.3 4.3m0 -4.3l-4.3 4.3M375.0 159.1l4.3 4.3m0 -4.3l-4.3 4.3M375.0 159.4l4.3 4.3m0 -4.3l-4.3 4.3M375.0 159.8l4.3 4.3m0 -4.3l-4.3 4.3M375.0 159.8l4.3 4.3m0 -4.3l-4.3 4.3M375.0 160.4l4.3 4.3m0 -4.3l-4.3 4.3M375.0 160.6l4.3 4.3m0 -4.3l-4.3 4.3M375.0 161.1l4.3 4.3m0 -4.3l-4.3 4.3M375.1 161.4l4.3 4.3m0 -4.3l-4.3 4.3M375.1 161.6l4.3 4.3m0 -4.3l-4.3 4.3M375.1 162.1l4.3 4.3m0 -4.3l-4.3 4.3M375.1 162.6l4.3 4.3m0 -4.3l-4.3 4.3M375.1 162.9l4.3 4.3m0 -4.3l-4.3 4.3M375.1 163.2l4.3 4.3m0 -4.3l-4.3 4.3M375.1 163.4l4.3 4.3m0 -4.3l-4.3 4.3M375.1 163.8l4.3 4.3m0 -4.3l-4.3 4.3M375.1 164.1l4.3 4.3m0 -4.3l-4.3 4.3M375.2 164.6l4.3 4.3m0 -4.3l-4.3 4.3M375.2 165.1l4.3 4.3m0 -4.3l-4.3 4.3M375.2 165.3l4.3 4.3m0 -4.3l-4.3 4.3M375.2 165.6l4.3 4.3m0 -4.3l-4.3 4.3M375.2 165.8l4.3 4.3m0 -4.3l-4.3 4.3M375.2 166.4l4.3 4.3m0 -4.3l-4.3 4.3M375.2 166.6l4.3 4.3m0 -4.3l-4.3 4.3M375.2 166.8l4.3 4.3m0 -4.3l-4.3 4.3M375.3 167.2l4.3 4.3m0 -4.3l-4.3 4.3M375.3 167.7l4.3 4.3m0 -4.3l-4.3 4.3M375.3 168.0l4.3 4.3m0 -4.3l-4.3 4.3M375.3 168.6l4.3 4.3m0 -4.3l-4.3 4.3M375.3 168.8l4.3 4.3m0 -4.3l-4.3 4.3M375.3 169.0l4.3 4.3m0 -4.3l-4.3 4.3M375.3 169.4l4.3 4.3m0 -4.3l-4.3 4.3M375.4 170.0l4.3 4.3m0 -4.3l-4.3 4.3M375.4 170.0l4.3 4.3m0 -4.3l-4.3 4.3M375.4 170.6l4.3 4.3m0 -4.3l-4.3 4.3M375.4 170.9l4.3 4.3m0 -4.3l-4.3 4.3M375.4 171.4l4.3 4.3m0 -4.3l-4.3 4.3M375.4 171.6l4.3 4.3m0 -4.3l-4.3 4.3M375.4 171.9l4.3 4.3m0 -4.3l-4.3 4.3M375.5 172.3l4.3 4.3m0 -4.3l-4.3 4.3M375.5 172.6l4.3 4.3m0 -4.3l-4.3 4.3M375.5 173.1l4.3 4.3m0 -4.3l-4.3 4.3M375.5 173.3l4.3 4.3m0 -4.3l-4.3 4.3M375.5 173.9l4.3 4.3m0 -4.3l-4.3 4.3M375.5 174.0l4.3 4.3m0 -4.3l-4.3 4.3M375.5 174.4l4.3 4.3m0 -4.3l-4.3 4.3M375.6 174.6l4.3 4.3m0 -4.3l-4.3 4.3M375.6 175.1l4.3 4.3m0 -4.3l-4.3 4.3M375.6 175.4l4.3 4.3m0 -4.3l-4.3 4.3M375.6 175.8l4.3 4.3m0 -4.3l-4.3 4.3M375.6 176.2l4.3 4.3m0 -4.3l-4.3 4.3M375.6 176.4l4.3 4.3m0 -4.3l-4.3 4.3M375.6 176.7l4.3 4.3m0 -4.3l-4.3 4.3M375.7 177.3l4.3 4.3m0 -4.3l-4.3 4.3M375.7 177.5l4.3 4.3m0 -4.3l-4.3 4.3M375.7 177.8l4.3 4.3m0 -4.3l-4.3 4.3M375.7 178.3l4.3 4.3m0 -4.3l-4.3 4.3M375.7 178.6l4.3 4.3m0 -4.3l-4.3 4.3M375.7 178.6l4.3 4.3m0 -4.3l-4.3 4.3M375.7 179.2l4.3 4.3m0 -4.3l-4.3 4.3M375.8 179.7l4.3 4.3m0 -4.3l-4.3 4.3M375.8 180.1l4.3 4.3m0 -4.3l-4.3 4.3M375.8 180.2l4.3 4.3m0 -4.3l-4.3 4.3M375.8 180.8l4.3 4.3m0 -4.3l-4.3 4.3M375.8 180.9l4.3 4.3m0 -4.3l-4.3 4.3M375.8 181.3l4.3 4.3m0 -4.3l-4.3 4.3M375.8 181.7l4.3 4.3m0 -4.3l-4.3 4.3M378.6 186.4l4.3 4.3m0 -4.3l-4.3 4.3M380.5 189.3l4.3 4.3m0 -4.3l-4.3 4.3M384.4 193.2l4.3 4.3m0 -4.3l-4.3 4.3M389.1 196.9l4.3 4.3m0 -4.3l-4.3 4.3M391.6 202.7l4.3 4.3m0 -4.3l-4.3 4.3M391.6 210.8l4.3 4.3m0 -4.3l-4.3 4.3M391.6 224.2l4.3 4.3m0 -4.3l-4.3 4.3" fill="none" stroke="#E3CB2F" stroke-width="0.8" opacity="1"/>
<path d="M290.8 127.7l4.3 4.3m0 -4.3l-4.3 4.3M294.6 128.9l4.3 4.3m0 -4.3l-4.3 4.3M298.4 129.9l4.3 4.3m0 -4.3l-4.3 4.3M300.7 131.5l4.3 4.3m0 -4.3l-4.3 4.3M301.5 132.2l4.3 4.3m0 -4.3l-4.3 4.3M309.1 134.2l4.3 4.3m0 -4.3l-4.3 4.3M317.5 135.3l4.3 4.3m0 -4.3l-4.3 4.3M324.4 136.5l4.3 4.3m0 -4.3l-4.3 4.3M329.4 138.0l4.3 4.3m0 -4.3l-4.3 4.3M337.8 139.2l4.3 4.3m0 -4.3l-4.3 4.3M342.7 141.4l4.3 4.3m0 -4.3l-4.3 4.3M344.2 144.2l4.3 4.3m0 -4.3l-4.3 4.3M358.5 146.8l4.3 4.3m0 -4.3l-4.3 4.3M370.0 149.0l4.3 4.3m0 -4.3l-4.3 4.3M372.2 152.2l4.3 4.3m0 -4.3l-4.3 4.3M373.0 154.4l4.3 4.3m0 -4.3l-4.3 4.3M379.4 158.2l4.3 4.3m0 -4.3l-4.3 4.3M382.1 162.7l4.3 4.3m0 -4.3l-4.3 4.3M382.8 168.3l4.3 4.3m0 -4.3l-4.3 4.3M383.4 176.5l4.3 4.3m0 -4.3l-4.3 4.3M391.0 190.2l4.3 4.3m0 -4.3l-4.3 4.3" fill="none" stroke="#0072BD" stroke-width="0.8" opacity="1"/>
<line x1="149.6" y1="158.2" x2="312.7" y2="228.9" stroke="#000" stroke-width="1.4"/>
<line x1="182.4" y1="149.7" x2="330.2" y2="198.5" stroke="#000" stroke-width="1.4" stroke-dasharray="3.6 3.2"/>
</g>
<text transform="translate(51.0 61.8) scale(0.96 1)" text-anchor="end" font-size="12.8">10<tspan font-size="9.8" dy="-6">4</tspan></text>
<text transform="translate(51.0 153.7) scale(0.96 1)" text-anchor="end" font-size="12.8">10<tspan font-size="9.8" dy="-6">2</tspan></text>
<text transform="translate(51.0 245.6) scale(0.96 1)" text-anchor="end" font-size="12.8">10<tspan font-size="9.8" dy="-6">0</tspan></text>
<text transform="translate(51.0 337.5) scale(0.96 1)" text-anchor="end" font-size="12.8">10<tspan font-size="9.8" dy="-6">-2</tspan></text>
<text transform="translate(243.9 365.8) scale(0.96 1)" text-anchor="middle" font-size="12.8">10<tspan font-size="9.8" dy="-6">-2</tspan></text>
<text transform="translate(433.9 365.8) scale(0.96 1)" text-anchor="middle" font-size="12.8">10<tspan font-size="9.8" dy="-6">-1</tspan></text>
<text x="313.8" y="385.3" text-anchor="middle" font-size="12.8" textLength="54.6" lengthAdjust="spacingAndGlyphs">length (m)</text>
<text transform="translate(18.1 175.5) rotate(-90)" text-anchor="middle" font-size="12.8" textLength="320.6" lengthAdjust="spacingAndGlyphs">cumulative fracture length distribution function per unit area</text>
<g fill="none" stroke="#77AC30" stroke-width="1.35"><circle cx="484.5" cy="46.5" r="3.1"/></g>
<text transform="translate(495.4 49.8) scale(0.96 1)" font-size="9.2">G1</text>
<g fill="none" stroke="#4DBEEE" stroke-width="1.35"><circle cx="484.5" cy="70.1" r="3.1"/></g>
<text transform="translate(495.4 73.4) scale(0.96 1)" font-size="9.2">G5</text>
<path d="M482.4 80.1l4.3 4.3m0 -4.3l-4.3 4.3" fill="none" stroke="#7E2F8E" stroke-width="0.8" opacity="1"/>
<text transform="translate(495.4 85.6) scale(0.96 1)" font-size="9.2">A1</text>
<path d="M482.4 92.1l4.3 4.3m0 -4.3l-4.3 4.3" fill="none" stroke="#77AC30" stroke-width="0.8" opacity="1"/>
<text transform="translate(495.4 97.6) scale(0.96 1)" font-size="9.2">A2</text>
<path d="M482.4 104.1l4.3 4.3m0 -4.3l-4.3 4.3" fill="none" stroke="#4DBEEE" stroke-width="0.8" opacity="1"/>
<text transform="translate(495.4 109.6) scale(0.96 1)" font-size="9.2">A3</text>
<path d="M482.4 116.1l4.3 4.3m0 -4.3l-4.3 4.3" fill="none" stroke="#A2142F" stroke-width="0.8" opacity="1"/>
<text transform="translate(495.4 121.6) scale(0.96 1)" font-size="9.2">A4</text>
<path d="M482.4 128.2l4.3 4.3m0 -4.3l-4.3 4.3" fill="none" stroke="#0072BD" stroke-width="0.8" opacity="1"/>
<text transform="translate(495.4 133.6) scale(0.96 1)" font-size="9.2">A5</text>
<path d="M482.4 140.0l4.3 4.3m0 -4.3l-4.3 4.3" fill="none" stroke="#D95319" stroke-width="0.8" opacity="1"/>
<text transform="translate(495.4 145.5) scale(0.96 1)" font-size="9.2">A6</text>
<path d="M482.4 151.9l4.3 4.3m0 -4.3l-4.3 4.3" fill="none" stroke="#E3CB2F" stroke-width="0.8" opacity="1"/>
<text transform="translate(495.4 157.4) scale(0.96 1)" font-size="9.2">M1</text>
<path d="M482.4 163.9l4.3 4.3m0 -4.3l-4.3 4.3" fill="none" stroke="#0072BD" stroke-width="0.8" opacity="1"/>
<text transform="translate(495.4 169.4) scale(0.96 1)" font-size="9.2">M2</text>
<line x1="475.3" x2="493.6" y1="177.7" y2="177.7" stroke="#000" stroke-width="1.4"/>
<line x1="475.3" x2="493.6" y1="189.8" y2="189.8" stroke="#000" stroke-width="1.4" stroke-dasharray="3.6 3.2"/>
<text transform="translate(494 181) scale(1 1)" font-size="9.2">α = 1.8</text>
<text transform="translate(494 193.1) scale(1 1)" font-size="9.2">α = 1.4</text>
</svg>
</body></html>
